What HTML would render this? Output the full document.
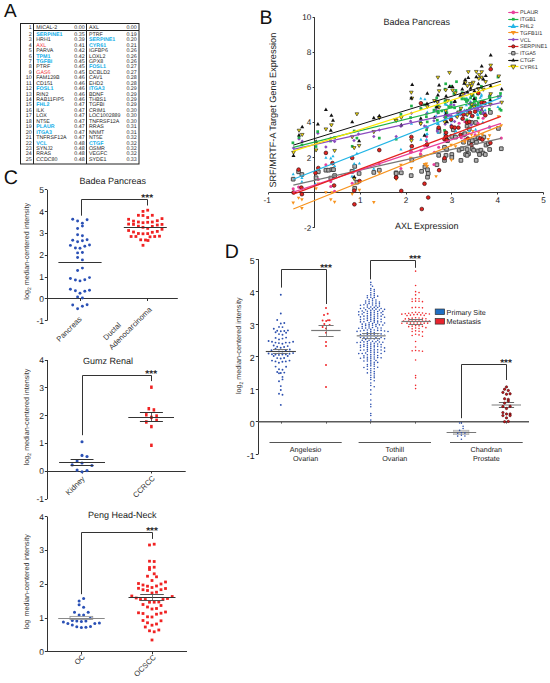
<!DOCTYPE html>
<html><head><meta charset="utf-8"><style>
html,body{margin:0;padding:0;background:#fff;}
svg{display:block;font-family:"Liberation Sans", sans-serif;text-rendering:geometricPrecision;}
</style></head><body>
<svg width="550" height="683" viewBox="0 0 550 683">
<rect width="550" height="683" fill="#fff"/>
<text x="4" y="17" font-size="19" text-anchor="start" fill="#111">A</text>
<rect x="20.5" y="23.5" width="118.5" height="140.5" fill="none" stroke="#222" stroke-width="1"/>
<line x1="33.5" y1="23.5" x2="33.5" y2="164" stroke="#222" stroke-width="1"/>
<line x1="86.5" y1="23.5" x2="86.5" y2="164" stroke="#222" stroke-width="1"/>
<line x1="33.5" y1="30.5" x2="139" y2="30.5" stroke="#222" stroke-width="1"/>
<text x="31.6" y="28.8" font-size="5.3" text-anchor="end" fill="#262626">1</text>
<text x="36.3" y="28.8" font-size="5.3" text-anchor="start" fill="#262626">MICAL-2</text>
<text x="84.6" y="28.8" font-size="5.3" text-anchor="end" fill="#262626">0.00</text>
<text x="89" y="28.8" font-size="5.3" text-anchor="start" fill="#262626">AXL</text>
<text x="136.7" y="28.8" font-size="5.3" text-anchor="end" fill="#262626">0.00</text>
<text x="31.6" y="35.9" font-size="5.3" text-anchor="end" fill="#262626">2</text>
<text x="36.3" y="35.9" font-size="5.3" text-anchor="start" fill="#12aee8" font-weight="bold">SERPINE1</text>
<text x="84.6" y="35.9" font-size="5.3" text-anchor="end" fill="#262626">0.35</text>
<text x="89" y="35.9" font-size="5.3" text-anchor="start" fill="#262626">PTRF</text>
<text x="136.7" y="35.9" font-size="5.3" text-anchor="end" fill="#262626">0.19</text>
<text x="31.6" y="41.33" font-size="5.3" text-anchor="end" fill="#262626">3</text>
<text x="36.3" y="41.33" font-size="5.3" text-anchor="start" fill="#262626">HRH1</text>
<text x="84.6" y="41.33" font-size="5.3" text-anchor="end" fill="#262626">0.39</text>
<text x="89" y="41.33" font-size="5.3" text-anchor="start" fill="#12aee8" font-weight="bold">SERPINE1</text>
<text x="136.7" y="41.33" font-size="5.3" text-anchor="end" fill="#262626">0.20</text>
<text x="31.6" y="46.76" font-size="5.3" text-anchor="end" fill="#262626">4</text>
<text x="36.3" y="46.76" font-size="5.3" text-anchor="start" fill="#f03a46">AXL</text>
<text x="84.6" y="46.76" font-size="5.3" text-anchor="end" fill="#262626">0.41</text>
<text x="89" y="46.76" font-size="5.3" text-anchor="start" fill="#12aee8" font-weight="bold">CYR61</text>
<text x="136.7" y="46.76" font-size="5.3" text-anchor="end" fill="#262626">0.21</text>
<text x="31.6" y="52.19" font-size="5.3" text-anchor="end" fill="#262626">5</text>
<text x="36.3" y="52.19" font-size="5.3" text-anchor="start" fill="#262626">PARVA</text>
<text x="84.6" y="52.19" font-size="5.3" text-anchor="end" fill="#262626">0.42</text>
<text x="89" y="52.19" font-size="5.3" text-anchor="start" fill="#262626">IGFBP6</text>
<text x="136.7" y="52.19" font-size="5.3" text-anchor="end" fill="#262626">0.26</text>
<text x="31.6" y="57.62" font-size="5.3" text-anchor="end" fill="#262626">6</text>
<text x="36.3" y="57.62" font-size="5.3" text-anchor="start" fill="#12aee8" font-weight="bold">TPM1</text>
<text x="84.6" y="57.62" font-size="5.3" text-anchor="end" fill="#262626">0.42</text>
<text x="89" y="57.62" font-size="5.3" text-anchor="start" fill="#262626">LOXL2</text>
<text x="136.7" y="57.62" font-size="5.3" text-anchor="end" fill="#262626">0.26</text>
<text x="31.6" y="63.05" font-size="5.3" text-anchor="end" fill="#262626">7</text>
<text x="36.3" y="63.05" font-size="5.3" text-anchor="start" fill="#12aee8" font-weight="bold">TGFBI</text>
<text x="84.6" y="63.05" font-size="5.3" text-anchor="end" fill="#262626">0.45</text>
<text x="89" y="63.05" font-size="5.3" text-anchor="start" fill="#262626">GPX8</text>
<text x="136.7" y="63.05" font-size="5.3" text-anchor="end" fill="#262626">0.26</text>
<text x="31.6" y="68.48" font-size="5.3" text-anchor="end" fill="#262626">8</text>
<text x="36.3" y="68.48" font-size="5.3" text-anchor="start" fill="#262626">PTRF</text>
<text x="84.6" y="68.48" font-size="5.3" text-anchor="end" fill="#262626">0.45</text>
<text x="89" y="68.48" font-size="5.3" text-anchor="start" fill="#12aee8" font-weight="bold">FOSL1</text>
<text x="136.7" y="68.48" font-size="5.3" text-anchor="end" fill="#262626">0.27</text>
<text x="31.6" y="73.91" font-size="5.3" text-anchor="end" fill="#262626">9</text>
<text x="36.3" y="73.91" font-size="5.3" text-anchor="start" fill="#f03a46">GAS6</text>
<text x="84.6" y="73.91" font-size="5.3" text-anchor="end" fill="#262626">0.45</text>
<text x="89" y="73.91" font-size="5.3" text-anchor="start" fill="#262626">DCBLD2</text>
<text x="136.7" y="73.91" font-size="5.3" text-anchor="end" fill="#262626">0.27</text>
<text x="31.6" y="79.34" font-size="5.3" text-anchor="end" fill="#262626">10</text>
<text x="36.3" y="79.34" font-size="5.3" text-anchor="start" fill="#262626">FAM129B</text>
<text x="84.6" y="79.34" font-size="5.3" text-anchor="end" fill="#262626">0.46</text>
<text x="89" y="79.34" font-size="5.3" text-anchor="start" fill="#262626">CAV1</text>
<text x="136.7" y="79.34" font-size="5.3" text-anchor="end" fill="#262626">0.28</text>
<text x="31.6" y="84.77" font-size="5.3" text-anchor="end" fill="#262626">11</text>
<text x="36.3" y="84.77" font-size="5.3" text-anchor="start" fill="#262626">CD151</text>
<text x="84.6" y="84.77" font-size="5.3" text-anchor="end" fill="#262626">0.46</text>
<text x="89" y="84.77" font-size="5.3" text-anchor="start" fill="#262626">EHD2</text>
<text x="136.7" y="84.77" font-size="5.3" text-anchor="end" fill="#262626">0.28</text>
<text x="31.6" y="90.2" font-size="5.3" text-anchor="end" fill="#262626">12</text>
<text x="36.3" y="90.2" font-size="5.3" text-anchor="start" fill="#12aee8" font-weight="bold">FOSL1</text>
<text x="84.6" y="90.2" font-size="5.3" text-anchor="end" fill="#262626">0.46</text>
<text x="89" y="90.2" font-size="5.3" text-anchor="start" fill="#12aee8" font-weight="bold">ITGA3</text>
<text x="136.7" y="90.2" font-size="5.3" text-anchor="end" fill="#262626">0.29</text>
<text x="31.6" y="95.63" font-size="5.3" text-anchor="end" fill="#262626">13</text>
<text x="36.3" y="95.63" font-size="5.3" text-anchor="start" fill="#262626">RIN2</text>
<text x="84.6" y="95.63" font-size="5.3" text-anchor="end" fill="#262626">0.46</text>
<text x="89" y="95.63" font-size="5.3" text-anchor="start" fill="#262626">BDNF</text>
<text x="136.7" y="95.63" font-size="5.3" text-anchor="end" fill="#262626">0.29</text>
<text x="31.6" y="101.06" font-size="5.3" text-anchor="end" fill="#262626">14</text>
<text x="36.3" y="101.06" font-size="5.3" text-anchor="start" fill="#262626">RAB11FIP5</text>
<text x="84.6" y="101.06" font-size="5.3" text-anchor="end" fill="#262626">0.46</text>
<text x="89" y="101.06" font-size="5.3" text-anchor="start" fill="#262626">THBS1</text>
<text x="136.7" y="101.06" font-size="5.3" text-anchor="end" fill="#262626">0.29</text>
<text x="31.6" y="106.49" font-size="5.3" text-anchor="end" fill="#262626">15</text>
<text x="36.3" y="106.49" font-size="5.3" text-anchor="start" fill="#12aee8" font-weight="bold">FHL2</text>
<text x="84.6" y="106.49" font-size="5.3" text-anchor="end" fill="#262626">0.47</text>
<text x="89" y="106.49" font-size="5.3" text-anchor="start" fill="#262626">TGFBI</text>
<text x="136.7" y="106.49" font-size="5.3" text-anchor="end" fill="#262626">0.29</text>
<text x="31.6" y="111.92" font-size="5.3" text-anchor="end" fill="#262626">16</text>
<text x="36.3" y="111.92" font-size="5.3" text-anchor="start" fill="#262626">ILK</text>
<text x="84.6" y="111.92" font-size="5.3" text-anchor="end" fill="#262626">0.47</text>
<text x="89" y="111.92" font-size="5.3" text-anchor="start" fill="#262626">CRIM1</text>
<text x="136.7" y="111.92" font-size="5.3" text-anchor="end" fill="#262626">0.30</text>
<text x="31.6" y="117.35" font-size="5.3" text-anchor="end" fill="#262626">17</text>
<text x="36.3" y="117.35" font-size="5.3" text-anchor="start" fill="#262626">LOX</text>
<text x="84.6" y="117.35" font-size="5.3" text-anchor="end" fill="#262626">0.47</text>
<text x="89" y="117.35" font-size="5.3" text-anchor="start" fill="#262626">LOC1002889</text>
<text x="136.7" y="117.35" font-size="5.3" text-anchor="end" fill="#262626">0.30</text>
<text x="31.6" y="122.78" font-size="5.3" text-anchor="end" fill="#262626">18</text>
<text x="36.3" y="122.78" font-size="5.3" text-anchor="start" fill="#262626">NT5E</text>
<text x="84.6" y="122.78" font-size="5.3" text-anchor="end" fill="#262626">0.47</text>
<text x="89" y="122.78" font-size="5.3" text-anchor="start" fill="#262626">TNFRSF12A</text>
<text x="136.7" y="122.78" font-size="5.3" text-anchor="end" fill="#262626">0.30</text>
<text x="31.6" y="128.21" font-size="5.3" text-anchor="end" fill="#262626">19</text>
<text x="36.3" y="128.21" font-size="5.3" text-anchor="start" fill="#12aee8" font-weight="bold">PLAUR</text>
<text x="84.6" y="128.21" font-size="5.3" text-anchor="end" fill="#262626">0.47</text>
<text x="89" y="128.21" font-size="5.3" text-anchor="start" fill="#262626">RRAS</text>
<text x="136.7" y="128.21" font-size="5.3" text-anchor="end" fill="#262626">0.31</text>
<text x="31.6" y="133.64" font-size="5.3" text-anchor="end" fill="#262626">20</text>
<text x="36.3" y="133.64" font-size="5.3" text-anchor="start" fill="#12aee8" font-weight="bold">ITGA3</text>
<text x="84.6" y="133.64" font-size="5.3" text-anchor="end" fill="#262626">0.47</text>
<text x="89" y="133.64" font-size="5.3" text-anchor="start" fill="#262626">NNMT</text>
<text x="136.7" y="133.64" font-size="5.3" text-anchor="end" fill="#262626">0.31</text>
<text x="31.6" y="139.07" font-size="5.3" text-anchor="end" fill="#262626">21</text>
<text x="36.3" y="139.07" font-size="5.3" text-anchor="start" fill="#262626">TNFRSF12A</text>
<text x="84.6" y="139.07" font-size="5.3" text-anchor="end" fill="#262626">0.47</text>
<text x="89" y="139.07" font-size="5.3" text-anchor="start" fill="#262626">NT5E</text>
<text x="136.7" y="139.07" font-size="5.3" text-anchor="end" fill="#262626">0.32</text>
<text x="31.6" y="144.5" font-size="5.3" text-anchor="end" fill="#262626">22</text>
<text x="36.3" y="144.5" font-size="5.3" text-anchor="start" fill="#12aee8" font-weight="bold">VCL</text>
<text x="84.6" y="144.5" font-size="5.3" text-anchor="end" fill="#262626">0.48</text>
<text x="89" y="144.5" font-size="5.3" text-anchor="start" fill="#12aee8" font-weight="bold">CTGF</text>
<text x="136.7" y="144.5" font-size="5.3" text-anchor="end" fill="#262626">0.32</text>
<text x="31.6" y="149.93" font-size="5.3" text-anchor="end" fill="#262626">23</text>
<text x="36.3" y="149.93" font-size="5.3" text-anchor="start" fill="#262626">SYNJ2</text>
<text x="84.6" y="149.93" font-size="5.3" text-anchor="end" fill="#262626">0.48</text>
<text x="89" y="149.93" font-size="5.3" text-anchor="start" fill="#262626">OSMR</text>
<text x="136.7" y="149.93" font-size="5.3" text-anchor="end" fill="#262626">0.32</text>
<text x="31.6" y="155.36" font-size="5.3" text-anchor="end" fill="#262626">24</text>
<text x="36.3" y="155.36" font-size="5.3" text-anchor="start" fill="#262626">RRAS</text>
<text x="84.6" y="155.36" font-size="5.3" text-anchor="end" fill="#262626">0.48</text>
<text x="89" y="155.36" font-size="5.3" text-anchor="start" fill="#262626">VEGFC</text>
<text x="136.7" y="155.36" font-size="5.3" text-anchor="end" fill="#262626">0.32</text>
<text x="31.6" y="160.79" font-size="5.3" text-anchor="end" fill="#262626">25</text>
<text x="36.3" y="160.79" font-size="5.3" text-anchor="start" fill="#262626">CCDC80</text>
<text x="84.6" y="160.79" font-size="5.3" text-anchor="end" fill="#262626">0.48</text>
<text x="89" y="160.79" font-size="5.3" text-anchor="start" fill="#262626">SYDE1</text>
<text x="136.7" y="160.79" font-size="5.3" text-anchor="end" fill="#262626">0.33</text>
<text x="259.4" y="24.1" font-size="19.5" text-anchor="start" fill="#111">B</text>
<line x1="314.5" y1="17.2" x2="314.5" y2="227.8" stroke="#333" stroke-width="1"/>
<line x1="268.55" y1="192.5" x2="543.65" y2="192.5" stroke="#333" stroke-width="1"/>
<line x1="312.6" y1="17.5" x2="314.4" y2="17.5" stroke="#333" stroke-width="1"/>
<text x="311.4" y="20.1" font-size="8.2" text-anchor="end" fill="#222">10</text>
<line x1="312.6" y1="52.5" x2="314.4" y2="52.5" stroke="#333" stroke-width="1"/>
<text x="311.4" y="55.2" font-size="8.2" text-anchor="end" fill="#222">8</text>
<line x1="312.6" y1="87.5" x2="314.4" y2="87.5" stroke="#333" stroke-width="1"/>
<text x="311.4" y="90.3" font-size="8.2" text-anchor="end" fill="#222">6</text>
<line x1="312.6" y1="122.5" x2="314.4" y2="122.5" stroke="#333" stroke-width="1"/>
<text x="311.4" y="125.4" font-size="8.2" text-anchor="end" fill="#222">4</text>
<line x1="312.6" y1="157.5" x2="314.4" y2="157.5" stroke="#333" stroke-width="1"/>
<text x="311.4" y="160.5" font-size="8.2" text-anchor="end" fill="#222">2</text>
<line x1="312.6" y1="227.5" x2="314.4" y2="227.5" stroke="#333" stroke-width="1"/>
<text x="311.4" y="230.7" font-size="8.2" text-anchor="end" fill="#222">-2</text>
<line x1="268.5" y1="192.7" x2="268.5" y2="194.5" stroke="#333" stroke-width="1"/>
<text x="267.05" y="202.8" font-size="8.2" text-anchor="middle" fill="#222">-1</text>
<line x1="360.5" y1="192.7" x2="360.5" y2="194.5" stroke="#333" stroke-width="1"/>
<text x="360.25" y="202.8" font-size="8.2" text-anchor="middle" fill="#222">1</text>
<line x1="406.5" y1="192.7" x2="406.5" y2="194.5" stroke="#333" stroke-width="1"/>
<text x="406.1" y="202.8" font-size="8.2" text-anchor="middle" fill="#222">2</text>
<line x1="451.5" y1="192.7" x2="451.5" y2="194.5" stroke="#333" stroke-width="1"/>
<text x="451.95" y="202.8" font-size="8.2" text-anchor="middle" fill="#222">3</text>
<line x1="497.5" y1="192.7" x2="497.5" y2="194.5" stroke="#333" stroke-width="1"/>
<text x="497.8" y="202.8" font-size="8.2" text-anchor="middle" fill="#222">4</text>
<line x1="543.5" y1="192.7" x2="543.5" y2="194.5" stroke="#333" stroke-width="1"/>
<text x="543.65" y="202.8" font-size="8.2" text-anchor="middle" fill="#222">5</text>
<text x="416.75" y="24.8" font-size="9" text-anchor="middle" fill="#222">Badea Pancreas</text>
<text x="426.75" y="228.8" font-size="9" text-anchor="middle" fill="#222">AXL Expression</text>
<text x="0" y="0" font-size="9.15" text-anchor="middle" fill="#222" transform="translate(275.8,110.2) rotate(-90)">SRF/MRTF-A Target Gene Expression</text>
<rect x="394.25" y="170.95" width="3.7" height="3.7" rx="0.3" fill="#b0b0b0" stroke="#333" stroke-width="0.85"/>
<rect x="399.45" y="170.95" width="3.7" height="3.7" rx="0.3" fill="#b0b0b0" stroke="#333" stroke-width="0.85"/>
<rect x="409.35" y="173.75" width="3.7" height="3.7" rx="0.3" fill="#b0b0b0" stroke="#333" stroke-width="0.85"/>
<rect x="409.95" y="158.05" width="3.7" height="3.7" rx="0.3" fill="#b0b0b0" stroke="#333" stroke-width="0.85"/>
<rect x="419.75" y="169.45" width="3.7" height="3.7" rx="0.3" fill="#b0b0b0" stroke="#333" stroke-width="0.85"/>
<rect x="423.05" y="165.05" width="3.7" height="3.7" rx="0.3" fill="#b0b0b0" stroke="#333" stroke-width="0.85"/>
<rect x="425.65" y="167.85" width="3.7" height="3.7" rx="0.3" fill="#b0b0b0" stroke="#333" stroke-width="0.85"/>
<rect x="425.65" y="175.35" width="3.7" height="3.7" rx="0.3" fill="#b0b0b0" stroke="#333" stroke-width="0.85"/>
<rect x="426.35" y="171.65" width="3.7" height="3.7" rx="0.3" fill="#b0b0b0" stroke="#333" stroke-width="0.85"/>
<rect x="435.05" y="162.85" width="3.7" height="3.7" rx="0.3" fill="#b0b0b0" stroke="#333" stroke-width="0.85"/>
<rect x="442.65" y="158.55" width="3.7" height="3.7" rx="0.3" fill="#b0b0b0" stroke="#333" stroke-width="0.85"/>
<rect x="459.05" y="158.55" width="3.7" height="3.7" rx="0.3" fill="#b0b0b0" stroke="#333" stroke-width="0.85"/>
<rect x="474.35" y="158.55" width="3.7" height="3.7" rx="0.3" fill="#b0b0b0" stroke="#333" stroke-width="0.85"/>
<rect x="479.75" y="110.55" width="3.7" height="3.7" rx="0.3" fill="#b0b0b0" stroke="#333" stroke-width="0.85"/>
<rect x="488.55" y="110.55" width="3.7" height="3.7" rx="0.3" fill="#b0b0b0" stroke="#333" stroke-width="0.85"/>
<rect x="469.65" y="120.65" width="3.7" height="3.7" rx="0.3" fill="#b0b0b0" stroke="#333" stroke-width="0.85"/>
<rect x="473.95" y="120.65" width="3.7" height="3.7" rx="0.3" fill="#b0b0b0" stroke="#333" stroke-width="0.85"/>
<rect x="465.25" y="124.35" width="3.7" height="3.7" rx="0.3" fill="#b0b0b0" stroke="#333" stroke-width="0.85"/>
<rect x="467.45" y="127.25" width="3.7" height="3.7" rx="0.3" fill="#b0b0b0" stroke="#333" stroke-width="0.85"/>
<rect x="461.65" y="133.05" width="3.7" height="3.7" rx="0.3" fill="#b0b0b0" stroke="#333" stroke-width="0.85"/>
<rect x="463.05" y="131.85" width="3.7" height="3.7" rx="0.3" fill="#b0b0b0" stroke="#333" stroke-width="0.85"/>
<rect x="436.85" y="127.95" width="3.7" height="3.7" rx="0.3" fill="#b0b0b0" stroke="#333" stroke-width="0.85"/>
<rect x="437.15" y="129.45" width="3.7" height="3.7" rx="0.3" fill="#b0b0b0" stroke="#333" stroke-width="0.85"/>
<rect x="451.45" y="127.95" width="3.7" height="3.7" rx="0.3" fill="#b0b0b0" stroke="#333" stroke-width="0.85"/>
<rect x="449.95" y="134.55" width="3.7" height="3.7" rx="0.3" fill="#b0b0b0" stroke="#333" stroke-width="0.85"/>
<rect x="453.65" y="135.25" width="3.7" height="3.7" rx="0.3" fill="#b0b0b0" stroke="#333" stroke-width="0.85"/>
<rect x="476.15" y="135.95" width="3.7" height="3.7" rx="0.3" fill="#b0b0b0" stroke="#333" stroke-width="0.85"/>
<rect x="481.95" y="135.25" width="3.7" height="3.7" rx="0.3" fill="#b0b0b0" stroke="#333" stroke-width="0.85"/>
<rect x="473.25" y="138.15" width="3.7" height="3.7" rx="0.3" fill="#b0b0b0" stroke="#333" stroke-width="0.85"/>
<rect x="474.65" y="140.35" width="3.7" height="3.7" rx="0.3" fill="#b0b0b0" stroke="#333" stroke-width="0.85"/>
<rect x="461.65" y="140.35" width="3.7" height="3.7" rx="0.3" fill="#b0b0b0" stroke="#333" stroke-width="0.85"/>
<rect x="467.45" y="141.05" width="3.7" height="3.7" rx="0.3" fill="#b0b0b0" stroke="#333" stroke-width="0.85"/>
<rect x="470.35" y="138.85" width="3.7" height="3.7" rx="0.3" fill="#b0b0b0" stroke="#333" stroke-width="0.85"/>
<rect x="444.15" y="135.25" width="3.7" height="3.7" rx="0.3" fill="#b0b0b0" stroke="#333" stroke-width="0.85"/>
<rect x="445.65" y="138.85" width="3.7" height="3.7" rx="0.3" fill="#b0b0b0" stroke="#333" stroke-width="0.85"/>
<rect x="484.15" y="143.25" width="3.7" height="3.7" rx="0.3" fill="#b0b0b0" stroke="#333" stroke-width="0.85"/>
<rect x="486.35" y="141.75" width="3.7" height="3.7" rx="0.3" fill="#b0b0b0" stroke="#333" stroke-width="0.85"/>
<rect x="496.55" y="126.55" width="3.7" height="3.7" rx="0.3" fill="#b0b0b0" stroke="#333" stroke-width="0.85"/>
<rect x="499.45" y="146.85" width="3.7" height="3.7" rx="0.3" fill="#b0b0b0" stroke="#333" stroke-width="0.85"/>
<rect x="457.25" y="148.35" width="3.7" height="3.7" rx="0.3" fill="#b0b0b0" stroke="#333" stroke-width="0.85"/>
<rect x="460.15" y="146.85" width="3.7" height="3.7" rx="0.3" fill="#b0b0b0" stroke="#333" stroke-width="0.85"/>
<rect x="465.25" y="147.65" width="3.7" height="3.7" rx="0.3" fill="#b0b0b0" stroke="#333" stroke-width="0.85"/>
<rect x="466.65" y="151.95" width="3.7" height="3.7" rx="0.3" fill="#b0b0b0" stroke="#333" stroke-width="0.85"/>
<rect x="470.35" y="146.85" width="3.7" height="3.7" rx="0.3" fill="#b0b0b0" stroke="#333" stroke-width="0.85"/>
<rect x="471.75" y="148.35" width="3.7" height="3.7" rx="0.3" fill="#b0b0b0" stroke="#333" stroke-width="0.85"/>
<rect x="476.15" y="149.05" width="3.7" height="3.7" rx="0.3" fill="#b0b0b0" stroke="#333" stroke-width="0.85"/>
<rect x="479.05" y="148.35" width="3.7" height="3.7" rx="0.3" fill="#b0b0b0" stroke="#333" stroke-width="0.85"/>
<rect x="481.25" y="151.25" width="3.7" height="3.7" rx="0.3" fill="#b0b0b0" stroke="#333" stroke-width="0.85"/>
<rect x="487.75" y="147.65" width="3.7" height="3.7" rx="0.3" fill="#b0b0b0" stroke="#333" stroke-width="0.85"/>
<rect x="442.65" y="145.45" width="3.7" height="3.7" rx="0.3" fill="#b0b0b0" stroke="#333" stroke-width="0.85"/>
<rect x="444.85" y="147.65" width="3.7" height="3.7" rx="0.3" fill="#b0b0b0" stroke="#333" stroke-width="0.85"/>
<rect x="449.95" y="152.65" width="3.7" height="3.7" rx="0.3" fill="#b0b0b0" stroke="#333" stroke-width="0.85"/>
<rect x="436.85" y="153.45" width="3.7" height="3.7" rx="0.3" fill="#b0b0b0" stroke="#333" stroke-width="0.85"/>
<rect x="444.15" y="153.45" width="3.7" height="3.7" rx="0.3" fill="#b0b0b0" stroke="#333" stroke-width="0.85"/>
<rect x="477.65" y="152.65" width="3.7" height="3.7" rx="0.3" fill="#b0b0b0" stroke="#333" stroke-width="0.85"/>
<rect x="483.45" y="152.65" width="3.7" height="3.7" rx="0.3" fill="#b0b0b0" stroke="#333" stroke-width="0.85"/>
<rect x="463.75" y="152.65" width="3.7" height="3.7" rx="0.3" fill="#b0b0b0" stroke="#333" stroke-width="0.85"/>
<rect x="465.25" y="153.45" width="3.7" height="3.7" rx="0.3" fill="#b0b0b0" stroke="#333" stroke-width="0.85"/>
<rect x="449.95" y="155.65" width="3.7" height="3.7" rx="0.3" fill="#b0b0b0" stroke="#333" stroke-width="0.85"/>
<rect x="296.75" y="169.95" width="3.7" height="3.7" rx="0.3" fill="#b0b0b0" stroke="#333" stroke-width="0.85"/>
<rect x="300.05" y="172.65" width="3.7" height="3.7" rx="0.3" fill="#b0b0b0" stroke="#333" stroke-width="0.85"/>
<rect x="291.35" y="177.35" width="3.7" height="3.7" rx="0.3" fill="#b0b0b0" stroke="#333" stroke-width="0.85"/>
<rect x="316.45" y="169.95" width="3.7" height="3.7" rx="0.3" fill="#b0b0b0" stroke="#333" stroke-width="0.85"/>
<rect x="314.25" y="175.95" width="3.7" height="3.7" rx="0.3" fill="#b0b0b0" stroke="#333" stroke-width="0.85"/>
<rect x="324.05" y="168.35" width="3.7" height="3.7" rx="0.3" fill="#b0b0b0" stroke="#333" stroke-width="0.85"/>
<rect x="326.75" y="168.35" width="3.7" height="3.7" rx="0.3" fill="#b0b0b0" stroke="#333" stroke-width="0.85"/>
<rect x="330.05" y="167.75" width="3.7" height="3.7" rx="0.3" fill="#b0b0b0" stroke="#333" stroke-width="0.85"/>
<rect x="331.65" y="167.75" width="3.7" height="3.7" rx="0.3" fill="#b0b0b0" stroke="#333" stroke-width="0.85"/>
<rect x="328.95" y="176.25" width="3.7" height="3.7" rx="0.3" fill="#b0b0b0" stroke="#333" stroke-width="0.85"/>
<rect x="332.75" y="173.75" width="3.7" height="3.7" rx="0.3" fill="#b0b0b0" stroke="#333" stroke-width="0.85"/>
<rect x="352.85" y="164.55" width="3.7" height="3.7" rx="0.3" fill="#b0b0b0" stroke="#333" stroke-width="0.85"/>
<rect x="350.15" y="169.45" width="3.7" height="3.7" rx="0.3" fill="#b0b0b0" stroke="#333" stroke-width="0.85"/>
<rect x="357.25" y="171.65" width="3.7" height="3.7" rx="0.3" fill="#b0b0b0" stroke="#333" stroke-width="0.85"/>
<rect x="371.95" y="170.55" width="3.7" height="3.7" rx="0.3" fill="#b0b0b0" stroke="#333" stroke-width="0.85"/>
<rect x="377.45" y="168.35" width="3.7" height="3.7" rx="0.3" fill="#b0b0b0" stroke="#333" stroke-width="0.85"/>
<rect x="394.35" y="171.65" width="3.7" height="3.7" rx="0.3" fill="#b0b0b0" stroke="#333" stroke-width="0.85"/>
<rect x="352.85" y="186.35" width="3.7" height="3.7" rx="0.3" fill="#b0b0b0" stroke="#333" stroke-width="0.85"/>
<rect x="355.05" y="180.35" width="3.7" height="3.7" rx="0.3" fill="#b0b0b0" stroke="#333" stroke-width="0.85"/>
<path d="M400.92 166.97L402.72 163.82L399.12 163.82Z" fill="#f7931e"/>
<path d="M410.61 160.02L412.41 156.87L408.81 156.87Z" fill="#f7931e"/>
<path d="M411.45 170.21L413.25 167.06L409.65 167.06Z" fill="#f7931e"/>
<path d="M420.5 157.71L422.3 154.56L418.7 154.56Z" fill="#f7931e"/>
<path d="M420.92 157.08L422.72 153.93L419.12 153.93Z" fill="#f7931e"/>
<path d="M424.5 166.05L426.3 162.9L422.7 162.9Z" fill="#f7931e"/>
<path d="M426.39 165.71L428.19 162.56L424.59 162.56Z" fill="#f7931e"/>
<path d="M426.6 167.84L428.4 164.69L424.8 164.69Z" fill="#f7931e"/>
<path d="M427.24 168.27L429.04 165.12L425.44 165.12Z" fill="#f7931e"/>
<path d="M436.08 178.37L437.88 175.22L434.28 175.22Z" fill="#f7931e"/>
<path d="M451.44 161.99L453.24 158.84L449.64 158.84Z" fill="#f7931e"/>
<path d="M498.4 118.5L500.2 115.35L496.6 115.35Z" fill="#f7931e"/>
<path d="M501.3 127.3L503.1 124.15L499.5 124.15Z" fill="#f7931e"/>
<path d="M472.9 133.1L474.7 129.95L471.1 129.95Z" fill="#f7931e"/>
<path d="M478.7 134.5L480.5 131.35L476.9 131.35Z" fill="#f7931e"/>
<path d="M482.4 136.7L484.2 133.55L480.6 133.55Z" fill="#f7931e"/>
<path d="M480.9 140.3L482.7 137.15L479.1 137.15Z" fill="#f7931e"/>
<path d="M489.6 137.4L491.4 134.25L487.8 134.25Z" fill="#f7931e"/>
<path d="M488.2 141.1L490 137.95L486.4 137.95Z" fill="#f7931e"/>
<path d="M464.9 144L466.7 140.85L463.1 140.85Z" fill="#f7931e"/>
<path d="M471.5 136.7L473.3 133.55L469.7 133.55Z" fill="#f7931e"/>
<path d="M468.5 135.3L470.3 132.15L466.7 132.15Z" fill="#f7931e"/>
<path d="M455.5 148.3L457.3 145.15L453.7 145.15Z" fill="#f7931e"/>
<path d="M451.1 146.9L452.9 143.75L449.3 143.75Z" fill="#f7931e"/>
<path d="M298.6 199.8L300.4 196.65L296.8 196.65Z" fill="#f7931e"/>
<path d="M301.9 201.4L303.7 198.25L300.1 198.25Z" fill="#f7931e"/>
<path d="M293.2 204.7L295 201.55L291.4 201.55Z" fill="#f7931e"/>
<path d="M301.9 210.2L303.7 207.05L300.1 207.05Z" fill="#f7931e"/>
<path d="M316.1 190.5L317.9 187.35L314.3 187.35Z" fill="#f7931e"/>
<path d="M318.3 185.6L320.1 182.45L316.5 182.45Z" fill="#f7931e"/>
<path d="M325.9 194.3L327.7 191.15L324.1 191.15Z" fill="#f7931e"/>
<path d="M330.8 201.4L332.6 198.25L329 198.25Z" fill="#f7931e"/>
<path d="M334.6 203.9L336.4 200.75L332.8 200.75Z" fill="#f7931e"/>
<path d="M331.9 194.3L333.7 191.15L330.1 191.15Z" fill="#f7931e"/>
<path d="M352.2 196L354 192.85L350.4 192.85Z" fill="#f7931e"/>
<path d="M359.4 191.9L361.2 188.75L357.6 188.75Z" fill="#f7931e"/>
<path d="M379.3 174.7L381.1 171.55L377.5 171.55Z" fill="#f7931e"/>
<path d="M373.8 204.2L375.6 201.05L372 201.05Z" fill="#f7931e"/>
<path d="M396.2 181.3L398 178.15L394.4 178.15Z" fill="#f7931e"/>
<circle cx="400.92" cy="168.52" r="1.55" fill="#e8409c"/>
<circle cx="410.61" cy="152.32" r="1.55" fill="#e8409c"/>
<circle cx="411.45" cy="151.51" r="1.55" fill="#e8409c"/>
<circle cx="420.5" cy="153.68" r="1.55" fill="#e8409c"/>
<circle cx="420.92" cy="150.56" r="1.55" fill="#e8409c"/>
<circle cx="424.5" cy="145.84" r="1.55" fill="#e8409c"/>
<circle cx="426.39" cy="140.8" r="1.55" fill="#e8409c"/>
<circle cx="426.6" cy="136.47" r="1.55" fill="#e8409c"/>
<circle cx="427.24" cy="145.6" r="1.55" fill="#e8409c"/>
<circle cx="433.97" cy="164.43" r="1.55" fill="#e8409c"/>
<circle cx="483.1" cy="118.2" r="1.55" fill="#e8409c"/>
<circle cx="489.6" cy="126.9" r="1.55" fill="#e8409c"/>
<circle cx="501.3" cy="138.1" r="1.55" fill="#e8409c"/>
<circle cx="478" cy="123.3" r="1.55" fill="#e8409c"/>
<circle cx="459.1" cy="123.3" r="1.55" fill="#e8409c"/>
<circle cx="464.9" cy="121.8" r="1.55" fill="#e8409c"/>
<circle cx="475.1" cy="134.9" r="1.55" fill="#e8409c"/>
<circle cx="438.7" cy="147.3" r="1.55" fill="#e8409c"/>
<circle cx="434.4" cy="152.4" r="1.55" fill="#e8409c"/>
<circle cx="461.3" cy="137.8" r="1.55" fill="#e8409c"/>
<circle cx="464.9" cy="139.3" r="1.55" fill="#e8409c"/>
<circle cx="293.2" cy="188.7" r="1.55" fill="#e8409c"/>
<circle cx="298.6" cy="187.1" r="1.55" fill="#e8409c"/>
<circle cx="325.9" cy="164.7" r="1.55" fill="#e8409c"/>
<circle cx="330.8" cy="181.6" r="1.55" fill="#e8409c"/>
<circle cx="330.8" cy="186.5" r="1.55" fill="#e8409c"/>
<circle cx="334.6" cy="191.2" r="1.55" fill="#e8409c"/>
<circle cx="318.3" cy="179.5" r="1.55" fill="#e8409c"/>
<circle cx="352.2" cy="183.3" r="1.55" fill="#e8409c"/>
<circle cx="379.3" cy="163.6" r="1.55" fill="#e8409c"/>
<path d="M400.92 147.74L402.52 150.54L399.32 150.54Z" fill="#22b5e6"/>
<path d="M410.61 147.65L412.21 150.45L409.01 150.45Z" fill="#22b5e6"/>
<path d="M411.45 121.91L413.05 124.71L409.85 124.71Z" fill="#22b5e6"/>
<path d="M420.5 118.63L422.1 121.43L418.9 121.43Z" fill="#22b5e6"/>
<path d="M420.92 137.84L422.52 140.64L419.32 140.64Z" fill="#22b5e6"/>
<path d="M424.5 133.35L426.1 136.15L422.9 136.15Z" fill="#22b5e6"/>
<path d="M426.39 132.6L427.99 135.4L424.79 135.4Z" fill="#22b5e6"/>
<path d="M426.6 137.74L428.2 140.54L425 140.54Z" fill="#22b5e6"/>
<path d="M427.24 132.13L428.84 134.93L425.64 134.93Z" fill="#22b5e6"/>
<path d="M433.97 109.15L435.57 111.95L432.37 111.95Z" fill="#22b5e6"/>
<path d="M436.08 114.23L437.68 117.03L434.48 117.03Z" fill="#22b5e6"/>
<path d="M436.71 99.59L438.31 102.39L435.11 102.39Z" fill="#22b5e6"/>
<path d="M437.34 121.9L438.94 124.7L435.74 124.7Z" fill="#22b5e6"/>
<path d="M437.76 122.26L439.36 125.06L436.16 125.06Z" fill="#22b5e6"/>
<path d="M438.18 131.01L439.78 133.81L436.58 133.81Z" fill="#22b5e6"/>
<path d="M438.39 121.89L439.99 124.69L436.79 124.69Z" fill="#22b5e6"/>
<path d="M444.5 132.01L446.1 134.81L442.9 134.81Z" fill="#22b5e6"/>
<path d="M445.13 136.65L446.73 139.45L443.53 139.45Z" fill="#22b5e6"/>
<path d="M445.13 110.6L446.73 113.4L443.53 113.4Z" fill="#22b5e6"/>
<path d="M445.13 102.77L446.73 105.57L443.53 105.57Z" fill="#22b5e6"/>
<path d="M445.76 108.87L447.36 111.67L444.16 111.67Z" fill="#22b5e6"/>
<path d="M446.81 103.24L448.41 106.04L445.21 106.04Z" fill="#22b5e6"/>
<path d="M448.71 113.87L450.31 116.67L447.11 116.67Z" fill="#22b5e6"/>
<path d="M450.81 123.26L452.41 126.06L449.21 126.06Z" fill="#22b5e6"/>
<path d="M451.23 114.63L452.83 117.43L449.63 117.43Z" fill="#22b5e6"/>
<path d="M451.44 119.39L453.04 122.19L449.84 122.19Z" fill="#22b5e6"/>
<path d="M453.97 126.16L455.57 128.96L452.37 128.96Z" fill="#22b5e6"/>
<path d="M454.6 132.03L456.2 134.83L453 134.83Z" fill="#22b5e6"/>
<path d="M455.87 129.33L457.47 132.13L454.27 132.13Z" fill="#22b5e6"/>
<path d="M457.76 113.03L459.36 115.83L456.16 115.83Z" fill="#22b5e6"/>
<path d="M460.29 110.39L461.89 113.19L458.69 113.19Z" fill="#22b5e6"/>
<path d="M461.97 116.32L463.57 119.12L460.37 119.12Z" fill="#22b5e6"/>
<path d="M462.18 96.19L463.78 98.99L460.58 98.99Z" fill="#22b5e6"/>
<path d="M464.5 108.44L466.1 111.24L462.9 111.24Z" fill="#22b5e6"/>
<path d="M466.39 103.44L467.99 106.24L464.79 106.24Z" fill="#22b5e6"/>
<path d="M466.81 96.58L468.41 99.38L465.21 99.38Z" fill="#22b5e6"/>
<path d="M467.02 117.97L468.62 120.77L465.42 120.77Z" fill="#22b5e6"/>
<path d="M469.34 129.16L470.94 131.96L467.74 131.96Z" fill="#22b5e6"/>
<path d="M470.6 100L472.2 102.8L469 102.8Z" fill="#22b5e6"/>
<path d="M470.6 115.18L472.2 117.98L469 117.98Z" fill="#22b5e6"/>
<path d="M471.23 93.87L472.83 96.67L469.63 96.67Z" fill="#22b5e6"/>
<path d="M473.13 103.38L474.73 106.18L471.53 106.18Z" fill="#22b5e6"/>
<path d="M474.18 95.92L475.78 98.72L472.58 98.72Z" fill="#22b5e6"/>
<path d="M475.02 98.15L476.62 100.95L473.42 100.95Z" fill="#22b5e6"/>
<path d="M475.65 127.85L477.25 130.65L474.05 130.65Z" fill="#22b5e6"/>
<path d="M475.65 98.37L477.25 101.17L474.05 101.17Z" fill="#22b5e6"/>
<path d="M477.55 112.28L479.15 115.08L475.95 115.08Z" fill="#22b5e6"/>
<path d="M477.76 113.08L479.36 115.88L476.16 115.88Z" fill="#22b5e6"/>
<path d="M478.39 109.45L479.99 112.25L476.79 112.25Z" fill="#22b5e6"/>
<path d="M480.29 96.03L481.89 98.83L478.69 98.83Z" fill="#22b5e6"/>
<path d="M481.34 94.4L482.94 97.2L479.74 97.2Z" fill="#22b5e6"/>
<path d="M481.55 92.98L483.15 95.78L479.95 95.78Z" fill="#22b5e6"/>
<path d="M482.81 120.61L484.41 123.41L481.21 123.41Z" fill="#22b5e6"/>
<path d="M485.13 108.44L486.73 111.24L483.53 111.24Z" fill="#22b5e6"/>
<path d="M489.34 125.58L490.94 128.38L487.74 128.38Z" fill="#22b5e6"/>
<path d="M489.76 101.47L491.36 104.27L488.16 104.27Z" fill="#22b5e6"/>
<path d="M489.76 94.08L491.36 96.88L488.16 96.88Z" fill="#22b5e6"/>
<path d="M497.97 105.22L499.57 108.02L496.37 108.02Z" fill="#22b5e6"/>
<path d="M500.49 93.6L502.09 96.4L498.89 96.4Z" fill="#22b5e6"/>
<path d="M420.8 96.8L422.4 99.6L419.2 99.6Z" fill="#22b5e6"/>
<path d="M424.9 97.4L426.5 100.2L423.3 100.2Z" fill="#22b5e6"/>
<path d="M427.3 110.4L428.9 113.2L425.7 113.2Z" fill="#22b5e6"/>
<path d="M293.2 172.4L294.8 175.2L291.6 175.2Z" fill="#22b5e6"/>
<path d="M301.9 176.2L303.5 179L300.3 179Z" fill="#22b5e6"/>
<path d="M301.9 180L303.5 182.8L300.3 182.8Z" fill="#22b5e6"/>
<path d="M325.9 156L327.5 158.8L324.3 158.8Z" fill="#22b5e6"/>
<path d="M330.8 156.6L332.4 159.4L329.2 159.4Z" fill="#22b5e6"/>
<path d="M333 154.4L334.6 157.2L331.4 157.2Z" fill="#22b5e6"/>
<path d="M334.6 164.2L336.2 167L333 167Z" fill="#22b5e6"/>
<path d="M315.5 182.2L317.1 185L313.9 185Z" fill="#22b5e6"/>
<path d="M356.9 151.7L358.5 154.5L355.3 154.5Z" fill="#22b5e6"/>
<path d="M354.2 162L355.8 164.8L352.6 164.8Z" fill="#22b5e6"/>
<path d="M359.4 161.7L361 164.5L357.8 164.5Z" fill="#22b5e6"/>
<path d="M354.2 168.6L355.8 171.4L352.6 171.4Z" fill="#22b5e6"/>
<path d="M352 174.6L353.6 177.4L350.4 177.4Z" fill="#22b5e6"/>
<path d="M373.8 166.9L375.4 169.7L372.2 169.7Z" fill="#22b5e6"/>
<path d="M400.92 124.47L402.67 126.22L400.92 127.97L399.17 126.22Z" fill="#8b4cc0"/>
<path d="M410.61 119.51L412.36 121.26L410.61 123.01L408.86 121.26Z" fill="#8b4cc0"/>
<path d="M411.45 111.54L413.2 113.29L411.45 115.04L409.7 113.29Z" fill="#8b4cc0"/>
<path d="M420.5 122.2L422.25 123.95L420.5 125.7L418.75 123.95Z" fill="#8b4cc0"/>
<path d="M420.92 106.56L422.67 108.31L420.92 110.06L419.17 108.31Z" fill="#8b4cc0"/>
<path d="M424.5 124.29L426.25 126.04L424.5 127.79L422.75 126.04Z" fill="#8b4cc0"/>
<path d="M426.39 125.05L428.14 126.8L426.39 128.55L424.64 126.8Z" fill="#8b4cc0"/>
<path d="M426.6 112.03L428.35 113.78L426.6 115.53L424.85 113.78Z" fill="#8b4cc0"/>
<path d="M427.24 125.92L428.99 127.67L427.24 129.42L425.49 127.67Z" fill="#8b4cc0"/>
<path d="M433.97 118.91L435.72 120.66L433.97 122.41L432.22 120.66Z" fill="#8b4cc0"/>
<path d="M436.08 108.35L437.83 110.1L436.08 111.85L434.33 110.1Z" fill="#8b4cc0"/>
<path d="M436.71 105.81L438.46 107.56L436.71 109.31L434.96 107.56Z" fill="#8b4cc0"/>
<path d="M437.34 129.25L439.09 131L437.34 132.75L435.59 131Z" fill="#8b4cc0"/>
<path d="M437.76 111.14L439.51 112.89L437.76 114.64L436.01 112.89Z" fill="#8b4cc0"/>
<path d="M438.18 100.16L439.93 101.91L438.18 103.66L436.43 101.91Z" fill="#8b4cc0"/>
<path d="M438.39 105.55L440.14 107.3L438.39 109.05L436.64 107.3Z" fill="#8b4cc0"/>
<path d="M444.5 115.52L446.25 117.27L444.5 119.02L442.75 117.27Z" fill="#8b4cc0"/>
<path d="M445.13 118.22L446.88 119.97L445.13 121.72L443.38 119.97Z" fill="#8b4cc0"/>
<path d="M445.13 115.82L446.88 117.57L445.13 119.32L443.38 117.57Z" fill="#8b4cc0"/>
<path d="M445.13 122.58L446.88 124.33L445.13 126.08L443.38 124.33Z" fill="#8b4cc0"/>
<path d="M445.76 115.43L447.51 117.18L445.76 118.93L444.01 117.18Z" fill="#8b4cc0"/>
<path d="M446.81 114.58L448.56 116.33L446.81 118.08L445.06 116.33Z" fill="#8b4cc0"/>
<path d="M448.71 113.82L450.46 115.57L448.71 117.32L446.96 115.57Z" fill="#8b4cc0"/>
<path d="M450.81 102.86L452.56 104.61L450.81 106.36L449.06 104.61Z" fill="#8b4cc0"/>
<path d="M451.23 113.92L452.98 115.67L451.23 117.42L449.48 115.67Z" fill="#8b4cc0"/>
<path d="M451.44 123.57L453.19 125.32L451.44 127.07L449.69 125.32Z" fill="#8b4cc0"/>
<path d="M453.97 103.19L455.72 104.94L453.97 106.69L452.22 104.94Z" fill="#8b4cc0"/>
<path d="M454.6 119.82L456.35 121.57L454.6 123.32L452.85 121.57Z" fill="#8b4cc0"/>
<path d="M455.87 114.6L457.62 116.35L455.87 118.1L454.12 116.35Z" fill="#8b4cc0"/>
<path d="M457.76 111.7L459.51 113.45L457.76 115.2L456.01 113.45Z" fill="#8b4cc0"/>
<path d="M460.29 112.79L462.04 114.54L460.29 116.29L458.54 114.54Z" fill="#8b4cc0"/>
<path d="M461.97 117.61L463.72 119.36L461.97 121.11L460.22 119.36Z" fill="#8b4cc0"/>
<path d="M462.18 111.61L463.93 113.36L462.18 115.11L460.43 113.36Z" fill="#8b4cc0"/>
<path d="M464.5 91.88L466.25 93.63L464.5 95.38L462.75 93.63Z" fill="#8b4cc0"/>
<path d="M466.39 113.49L468.14 115.24L466.39 116.99L464.64 115.24Z" fill="#8b4cc0"/>
<path d="M466.81 109.68L468.56 111.43L466.81 113.18L465.06 111.43Z" fill="#8b4cc0"/>
<path d="M467.02 99.68L468.77 101.43L467.02 103.18L465.27 101.43Z" fill="#8b4cc0"/>
<path d="M469.34 102.16L471.09 103.91L469.34 105.66L467.59 103.91Z" fill="#8b4cc0"/>
<path d="M470.6 101.72L472.35 103.47L470.6 105.22L468.85 103.47Z" fill="#8b4cc0"/>
<path d="M470.6 100.94L472.35 102.69L470.6 104.44L468.85 102.69Z" fill="#8b4cc0"/>
<path d="M471.23 123.15L472.98 124.9L471.23 126.65L469.48 124.9Z" fill="#8b4cc0"/>
<path d="M473.13 114.01L474.88 115.76L473.13 117.51L471.38 115.76Z" fill="#8b4cc0"/>
<path d="M474.18 105.94L475.93 107.69L474.18 109.44L472.43 107.69Z" fill="#8b4cc0"/>
<path d="M475.02 102.82L476.77 104.57L475.02 106.32L473.27 104.57Z" fill="#8b4cc0"/>
<path d="M475.65 96.4L477.4 98.15L475.65 99.9L473.9 98.15Z" fill="#8b4cc0"/>
<path d="M475.65 102.91L477.4 104.66L475.65 106.41L473.9 104.66Z" fill="#8b4cc0"/>
<path d="M477.55 108.07L479.3 109.82L477.55 111.57L475.8 109.82Z" fill="#8b4cc0"/>
<path d="M477.76 105.83L479.51 107.58L477.76 109.33L476.01 107.58Z" fill="#8b4cc0"/>
<path d="M478.39 107.67L480.14 109.42L478.39 111.17L476.64 109.42Z" fill="#8b4cc0"/>
<path d="M480.29 103.63L482.04 105.38L480.29 107.13L478.54 105.38Z" fill="#8b4cc0"/>
<path d="M481.34 100.02L483.09 101.77L481.34 103.52L479.59 101.77Z" fill="#8b4cc0"/>
<path d="M481.55 107.98L483.3 109.73L481.55 111.48L479.8 109.73Z" fill="#8b4cc0"/>
<path d="M482.81 111.43L484.56 113.18L482.81 114.93L481.06 113.18Z" fill="#8b4cc0"/>
<path d="M485.13 111.24L486.88 112.99L485.13 114.74L483.38 112.99Z" fill="#8b4cc0"/>
<path d="M489.34 94.88L491.09 96.63L489.34 98.38L487.59 96.63Z" fill="#8b4cc0"/>
<path d="M489.76 93.33L491.51 95.08L489.76 96.83L488.01 95.08Z" fill="#8b4cc0"/>
<path d="M489.76 95.61L491.51 97.36L489.76 99.11L488.01 97.36Z" fill="#8b4cc0"/>
<path d="M497.97 94.83L499.72 96.58L497.97 98.33L496.22 96.58Z" fill="#8b4cc0"/>
<path d="M500.49 94.45L502.24 96.2L500.49 97.95L498.74 96.2Z" fill="#8b4cc0"/>
<path d="M293.5 146.25L295.25 148L293.5 149.75L291.75 148Z" fill="#8b4cc0"/>
<path d="M299 137.35L300.75 139.1L299 140.85L297.25 139.1Z" fill="#8b4cc0"/>
<path d="M302.2 139.45L303.95 141.2L302.2 142.95L300.45 141.2Z" fill="#8b4cc0"/>
<path d="M317.9 131.55L319.65 133.3L317.9 135.05L316.15 133.3Z" fill="#8b4cc0"/>
<path d="M330.8 136.45L332.55 138.2L330.8 139.95L329.05 138.2Z" fill="#8b4cc0"/>
<path d="M334.6 139.75L336.35 141.5L334.6 143.25L332.85 141.5Z" fill="#8b4cc0"/>
<path d="M325.9 145.35L327.65 147.1L325.9 148.85L324.15 147.1Z" fill="#8b4cc0"/>
<path d="M379.3 128.15L381.05 129.9L379.3 131.65L377.55 129.9Z" fill="#8b4cc0"/>
<path d="M373.8 134.75L375.55 136.5L373.8 138.25L372.05 136.5Z" fill="#8b4cc0"/>
<path d="M396.2 134.75L397.95 136.5L396.2 138.25L394.45 136.5Z" fill="#8b4cc0"/>
<path d="M354 138.75L355.75 140.5L354 142.25L352.25 140.5Z" fill="#8b4cc0"/>
<path d="M358.5 132.25L360.25 134L358.5 135.75L356.75 134Z" fill="#8b4cc0"/>
<rect x="399.57" y="112.93" width="2.7" height="2.7" fill="#1fb24a"/>
<rect x="409.26" y="116.21" width="2.7" height="2.7" fill="#1fb24a"/>
<rect x="410.1" y="104.64" width="2.7" height="2.7" fill="#1fb24a"/>
<rect x="419.15" y="120.93" width="2.7" height="2.7" fill="#1fb24a"/>
<rect x="419.57" y="107.2" width="2.7" height="2.7" fill="#1fb24a"/>
<rect x="423.15" y="103.5" width="2.7" height="2.7" fill="#1fb24a"/>
<rect x="425.04" y="115.35" width="2.7" height="2.7" fill="#1fb24a"/>
<rect x="425.25" y="128.45" width="2.7" height="2.7" fill="#1fb24a"/>
<rect x="425.89" y="120.53" width="2.7" height="2.7" fill="#1fb24a"/>
<rect x="432.62" y="108.81" width="2.7" height="2.7" fill="#1fb24a"/>
<rect x="434.73" y="105.73" width="2.7" height="2.7" fill="#1fb24a"/>
<rect x="435.36" y="96.62" width="2.7" height="2.7" fill="#1fb24a"/>
<rect x="435.99" y="118.86" width="2.7" height="2.7" fill="#1fb24a"/>
<rect x="436.41" y="109.92" width="2.7" height="2.7" fill="#1fb24a"/>
<rect x="436.83" y="104.14" width="2.7" height="2.7" fill="#1fb24a"/>
<rect x="437.04" y="111.17" width="2.7" height="2.7" fill="#1fb24a"/>
<rect x="443.15" y="129.05" width="2.7" height="2.7" fill="#1fb24a"/>
<rect x="443.78" y="101.02" width="2.7" height="2.7" fill="#1fb24a"/>
<rect x="443.78" y="87.81" width="2.7" height="2.7" fill="#1fb24a"/>
<rect x="443.78" y="99.29" width="2.7" height="2.7" fill="#1fb24a"/>
<rect x="444.41" y="115.99" width="2.7" height="2.7" fill="#1fb24a"/>
<rect x="445.46" y="111.3" width="2.7" height="2.7" fill="#1fb24a"/>
<rect x="447.36" y="105.26" width="2.7" height="2.7" fill="#1fb24a"/>
<rect x="449.46" y="84.84" width="2.7" height="2.7" fill="#1fb24a"/>
<rect x="449.88" y="101.15" width="2.7" height="2.7" fill="#1fb24a"/>
<rect x="450.09" y="105.52" width="2.7" height="2.7" fill="#1fb24a"/>
<rect x="452.62" y="92.22" width="2.7" height="2.7" fill="#1fb24a"/>
<rect x="453.25" y="106.45" width="2.7" height="2.7" fill="#1fb24a"/>
<rect x="454.52" y="89.08" width="2.7" height="2.7" fill="#1fb24a"/>
<rect x="456.41" y="110.95" width="2.7" height="2.7" fill="#1fb24a"/>
<rect x="458.94" y="108.47" width="2.7" height="2.7" fill="#1fb24a"/>
<rect x="460.62" y="97.56" width="2.7" height="2.7" fill="#1fb24a"/>
<rect x="460.83" y="91.34" width="2.7" height="2.7" fill="#1fb24a"/>
<rect x="463.15" y="97.52" width="2.7" height="2.7" fill="#1fb24a"/>
<rect x="465.04" y="100.13" width="2.7" height="2.7" fill="#1fb24a"/>
<rect x="465.46" y="118.66" width="2.7" height="2.7" fill="#1fb24a"/>
<rect x="465.67" y="108.88" width="2.7" height="2.7" fill="#1fb24a"/>
<rect x="467.99" y="107.4" width="2.7" height="2.7" fill="#1fb24a"/>
<rect x="469.25" y="106.41" width="2.7" height="2.7" fill="#1fb24a"/>
<rect x="469.25" y="96.58" width="2.7" height="2.7" fill="#1fb24a"/>
<rect x="469.88" y="104.51" width="2.7" height="2.7" fill="#1fb24a"/>
<rect x="471.78" y="94.18" width="2.7" height="2.7" fill="#1fb24a"/>
<rect x="472.83" y="100.11" width="2.7" height="2.7" fill="#1fb24a"/>
<rect x="473.67" y="103.54" width="2.7" height="2.7" fill="#1fb24a"/>
<rect x="474.3" y="99.43" width="2.7" height="2.7" fill="#1fb24a"/>
<rect x="474.3" y="96.7" width="2.7" height="2.7" fill="#1fb24a"/>
<rect x="476.2" y="92.46" width="2.7" height="2.7" fill="#1fb24a"/>
<rect x="476.41" y="104.13" width="2.7" height="2.7" fill="#1fb24a"/>
<rect x="477.04" y="101.82" width="2.7" height="2.7" fill="#1fb24a"/>
<rect x="478.94" y="111.27" width="2.7" height="2.7" fill="#1fb24a"/>
<rect x="479.99" y="84.97" width="2.7" height="2.7" fill="#1fb24a"/>
<rect x="480.2" y="86.25" width="2.7" height="2.7" fill="#1fb24a"/>
<rect x="481.46" y="100.24" width="2.7" height="2.7" fill="#1fb24a"/>
<rect x="483.78" y="102.29" width="2.7" height="2.7" fill="#1fb24a"/>
<rect x="487.99" y="107.89" width="2.7" height="2.7" fill="#1fb24a"/>
<rect x="488.41" y="95.45" width="2.7" height="2.7" fill="#1fb24a"/>
<rect x="488.41" y="95.13" width="2.7" height="2.7" fill="#1fb24a"/>
<rect x="496.62" y="75.74" width="2.7" height="2.7" fill="#1fb24a"/>
<rect x="499.14" y="92.09" width="2.7" height="2.7" fill="#1fb24a"/>
<rect x="455.15" y="80.35" width="2.7" height="2.7" fill="#1fb24a"/>
<rect x="444.35" y="82.45" width="2.7" height="2.7" fill="#1fb24a"/>
<rect x="464.15" y="98.15" width="2.7" height="2.7" fill="#1fb24a"/>
<rect x="466.65" y="98.75" width="2.7" height="2.7" fill="#1fb24a"/>
<rect x="498.45" y="107.65" width="2.7" height="2.7" fill="#1fb24a"/>
<rect x="499.75" y="108.95" width="2.7" height="2.7" fill="#1fb24a"/>
<rect x="476.85" y="116.55" width="2.7" height="2.7" fill="#1fb24a"/>
<rect x="440.55" y="109.55" width="2.7" height="2.7" fill="#1fb24a"/>
<rect x="291.55" y="141.45" width="2.7" height="2.7" fill="#1fb24a"/>
<rect x="300.55" y="143.55" width="2.7" height="2.7" fill="#1fb24a"/>
<rect x="316.35" y="130.25" width="2.7" height="2.7" fill="#1fb24a"/>
<rect x="333.25" y="136.25" width="2.7" height="2.7" fill="#1fb24a"/>
<rect x="352.85" y="129.65" width="2.7" height="2.7" fill="#1fb24a"/>
<rect x="355.55" y="136.75" width="2.7" height="2.7" fill="#1fb24a"/>
<rect x="377.95" y="136.75" width="2.7" height="2.7" fill="#1fb24a"/>
<rect x="350.85" y="144.95" width="2.7" height="2.7" fill="#1fb24a"/>
<rect x="394.85" y="137.85" width="2.7" height="2.7" fill="#1fb24a"/>
<rect x="297.65" y="136.15" width="2.7" height="2.7" fill="#1fb24a"/>
<rect x="314.65" y="145.15" width="2.7" height="2.7" fill="#1fb24a"/>
<rect x="329.15" y="139.65" width="2.7" height="2.7" fill="#1fb24a"/>
<circle cx="420.92" cy="103.23" r="1.85" fill="#e4231f" stroke="#3a1414" stroke-width="0.7"/>
<circle cx="490.7" cy="69.2" r="1.85" fill="#e4231f" stroke="#3a1414" stroke-width="0.7"/>
<circle cx="478.4" cy="93.1" r="1.85" fill="#e4231f" stroke="#3a1414" stroke-width="0.7"/>
<circle cx="411.4" cy="137" r="1.85" fill="#e4231f" stroke="#3a1414" stroke-width="0.7"/>
<circle cx="411.8" cy="146.2" r="1.85" fill="#e4231f" stroke="#3a1414" stroke-width="0.7"/>
<circle cx="427.1" cy="144.4" r="1.85" fill="#e4231f" stroke="#3a1414" stroke-width="0.7"/>
<circle cx="424.5" cy="183.7" r="1.85" fill="#e4231f" stroke="#3a1414" stroke-width="0.7"/>
<circle cx="401.3" cy="190.9" r="1.85" fill="#e4231f" stroke="#3a1414" stroke-width="0.7"/>
<circle cx="396.1" cy="177.2" r="1.85" fill="#e4231f" stroke="#3a1414" stroke-width="0.7"/>
<circle cx="428.2" cy="197.5" r="1.85" fill="#e4231f" stroke="#3a1414" stroke-width="0.7"/>
<circle cx="439.1" cy="170.2" r="1.85" fill="#e4231f" stroke="#3a1414" stroke-width="0.7"/>
<circle cx="421.8" cy="209" r="1.85" fill="#e4231f" stroke="#3a1414" stroke-width="0.7"/>
<circle cx="481.6" cy="102.2" r="1.85" fill="#e4231f" stroke="#3a1414" stroke-width="0.7"/>
<circle cx="484.5" cy="102.9" r="1.85" fill="#e4231f" stroke="#3a1414" stroke-width="0.7"/>
<circle cx="463.5" cy="114.5" r="1.85" fill="#e4231f" stroke="#3a1414" stroke-width="0.7"/>
<circle cx="462.7" cy="118.6" r="1.85" fill="#e4231f" stroke="#3a1414" stroke-width="0.7"/>
<circle cx="470" cy="112.4" r="1.85" fill="#e4231f" stroke="#3a1414" stroke-width="0.7"/>
<circle cx="472.2" cy="116" r="1.85" fill="#e4231f" stroke="#3a1414" stroke-width="0.7"/>
<circle cx="475.1" cy="111.6" r="1.85" fill="#e4231f" stroke="#3a1414" stroke-width="0.7"/>
<circle cx="485.3" cy="115.3" r="1.85" fill="#e4231f" stroke="#3a1414" stroke-width="0.7"/>
<circle cx="451.1" cy="119.6" r="1.85" fill="#e4231f" stroke="#3a1414" stroke-width="0.7"/>
<circle cx="451.8" cy="126.9" r="1.85" fill="#e4231f" stroke="#3a1414" stroke-width="0.7"/>
<circle cx="454.7" cy="127.6" r="1.85" fill="#e4231f" stroke="#3a1414" stroke-width="0.7"/>
<circle cx="458.4" cy="127.6" r="1.85" fill="#e4231f" stroke="#3a1414" stroke-width="0.7"/>
<circle cx="467.1" cy="122.5" r="1.85" fill="#e4231f" stroke="#3a1414" stroke-width="0.7"/>
<circle cx="469.3" cy="121.8" r="1.85" fill="#e4231f" stroke="#3a1414" stroke-width="0.7"/>
<circle cx="446" cy="132.7" r="1.85" fill="#e4231f" stroke="#3a1414" stroke-width="0.7"/>
<circle cx="446" cy="136.4" r="1.85" fill="#e4231f" stroke="#3a1414" stroke-width="0.7"/>
<circle cx="460.5" cy="134.9" r="1.85" fill="#e4231f" stroke="#3a1414" stroke-width="0.7"/>
<circle cx="467.8" cy="138.5" r="1.85" fill="#e4231f" stroke="#3a1414" stroke-width="0.7"/>
<circle cx="480.2" cy="138.5" r="1.85" fill="#e4231f" stroke="#3a1414" stroke-width="0.7"/>
<circle cx="482.4" cy="139.6" r="1.85" fill="#e4231f" stroke="#3a1414" stroke-width="0.7"/>
<circle cx="490.4" cy="142.9" r="1.85" fill="#e4231f" stroke="#3a1414" stroke-width="0.7"/>
<circle cx="444.5" cy="139.3" r="1.85" fill="#e4231f" stroke="#3a1414" stroke-width="0.7"/>
<circle cx="446.7" cy="140" r="1.85" fill="#e4231f" stroke="#3a1414" stroke-width="0.7"/>
<circle cx="438.7" cy="127.6" r="1.85" fill="#e4231f" stroke="#3a1414" stroke-width="0.7"/>
<circle cx="471.5" cy="144.8" r="1.85" fill="#e4231f" stroke="#3a1414" stroke-width="0.7"/>
<circle cx="444.5" cy="158.2" r="1.85" fill="#e4231f" stroke="#3a1414" stroke-width="0.7"/>
<circle cx="325.9" cy="152.9" r="1.85" fill="#e4231f" stroke="#3a1414" stroke-width="0.7"/>
<circle cx="298.6" cy="169.6" r="1.85" fill="#e4231f" stroke="#3a1414" stroke-width="0.7"/>
<circle cx="318.3" cy="168" r="1.85" fill="#e4231f" stroke="#3a1414" stroke-width="0.7"/>
<circle cx="315.5" cy="172.9" r="1.85" fill="#e4231f" stroke="#3a1414" stroke-width="0.7"/>
<circle cx="332.5" cy="163.1" r="1.85" fill="#e4231f" stroke="#3a1414" stroke-width="0.7"/>
<circle cx="301.4" cy="187.6" r="1.85" fill="#e4231f" stroke="#3a1414" stroke-width="0.7"/>
<circle cx="293.5" cy="192.5" r="1.85" fill="#e4231f" stroke="#3a1414" stroke-width="0.7"/>
<circle cx="301.9" cy="194.2" r="1.85" fill="#e4231f" stroke="#3a1414" stroke-width="0.7"/>
<circle cx="334.1" cy="185.5" r="1.85" fill="#e4231f" stroke="#3a1414" stroke-width="0.7"/>
<circle cx="379.3" cy="150.1" r="1.85" fill="#e4231f" stroke="#3a1414" stroke-width="0.7"/>
<circle cx="352.2" cy="157.9" r="1.85" fill="#e4231f" stroke="#3a1414" stroke-width="0.7"/>
<circle cx="359.6" cy="181.1" r="1.85" fill="#e4231f" stroke="#3a1414" stroke-width="0.7"/>
<circle cx="354.2" cy="190.6" r="1.85" fill="#e4231f" stroke="#3a1414" stroke-width="0.7"/>
<circle cx="396.2" cy="177.5" r="1.85" fill="#e4231f" stroke="#3a1414" stroke-width="0.7"/>
<circle cx="354.4" cy="204.3" r="1.85" fill="#e4231f" stroke="#3a1414" stroke-width="0.7"/>
<path d="M411.45 142.58L413.3 139.44L409.6 139.44Z" fill="#ffe600" stroke="#222" stroke-width="0.65"/>
<path d="M449.5 74.55L451.35 71.41L447.65 71.41Z" fill="#ffe600" stroke="#222" stroke-width="0.65"/>
<path d="M468.3 73.85L470.15 70.7L466.45 70.7Z" fill="#ffe600" stroke="#222" stroke-width="0.65"/>
<path d="M476.3 73.55L478.15 70.41L474.45 70.41Z" fill="#ffe600" stroke="#222" stroke-width="0.65"/>
<path d="M481.7 73.85L483.55 70.7L479.85 70.7Z" fill="#ffe600" stroke="#222" stroke-width="0.65"/>
<path d="M490.7 67.25L492.55 64.11L488.85 64.11Z" fill="#ffe600" stroke="#222" stroke-width="0.65"/>
<path d="M498.8 78.05L500.65 74.91L496.95 74.91Z" fill="#ffe600" stroke="#222" stroke-width="0.65"/>
<path d="M479.2 76.75L481.05 73.61L477.35 73.61Z" fill="#ffe600" stroke="#222" stroke-width="0.65"/>
<path d="M481.4 79.35L483.25 76.2L479.55 76.2Z" fill="#ffe600" stroke="#222" stroke-width="0.65"/>
<path d="M478.8 80.55L480.65 77.41L476.95 77.41Z" fill="#ffe600" stroke="#222" stroke-width="0.65"/>
<path d="M485.6 83.75L487.45 80.61L483.75 80.61Z" fill="#ffe600" stroke="#222" stroke-width="0.65"/>
<path d="M465.2 84.75L467.05 81.61L463.35 81.61Z" fill="#ffe600" stroke="#222" stroke-width="0.65"/>
<path d="M473.3 84.35L475.15 81.2L471.45 81.2Z" fill="#ffe600" stroke="#222" stroke-width="0.65"/>
<path d="M470.3 85.65L472.15 82.5L468.45 82.5Z" fill="#ffe600" stroke="#222" stroke-width="0.65"/>
<path d="M467.4 87.85L469.25 84.7L465.55 84.7Z" fill="#ffe600" stroke="#222" stroke-width="0.65"/>
<path d="M471.6 87.85L473.45 84.7L469.75 84.7Z" fill="#ffe600" stroke="#222" stroke-width="0.65"/>
<path d="M452.5 92.05L454.35 88.91L450.65 88.91Z" fill="#ffe600" stroke="#222" stroke-width="0.65"/>
<path d="M445.7 92.05L447.55 88.91L443.85 88.91Z" fill="#ffe600" stroke="#222" stroke-width="0.65"/>
<path d="M455.3 94.95L457.15 91.8L453.45 91.8Z" fill="#ffe600" stroke="#222" stroke-width="0.65"/>
<path d="M462.9 95.85L464.75 92.7L461.05 92.7Z" fill="#ffe600" stroke="#222" stroke-width="0.65"/>
<path d="M483.3 91.35L485.15 88.2L481.45 88.2Z" fill="#ffe600" stroke="#222" stroke-width="0.65"/>
<path d="M478.4 90.75L480.25 87.61L476.55 87.61Z" fill="#ffe600" stroke="#222" stroke-width="0.65"/>
<path d="M490.7 95.85L492.55 92.7L488.85 92.7Z" fill="#ffe600" stroke="#222" stroke-width="0.65"/>
<path d="M471.8 96.75L473.65 93.61L469.95 93.61Z" fill="#ffe600" stroke="#222" stroke-width="0.65"/>
<path d="M501.7 104.35L503.55 101.2L499.85 101.2Z" fill="#ffe600" stroke="#222" stroke-width="0.65"/>
<path d="M437.9 79.35L439.75 76.2L436.05 76.2Z" fill="#ffe600" stroke="#222" stroke-width="0.65"/>
<path d="M411.3 94.35L413.15 91.2L409.45 91.2Z" fill="#ffe600" stroke="#222" stroke-width="0.65"/>
<path d="M411.9 100.25L413.75 97.11L410.05 97.11Z" fill="#ffe600" stroke="#222" stroke-width="0.65"/>
<path d="M439.1 92.85L440.95 89.7L437.25 89.7Z" fill="#ffe600" stroke="#222" stroke-width="0.65"/>
<path d="M434.4 102.65L436.25 99.5L432.55 99.5Z" fill="#ffe600" stroke="#222" stroke-width="0.65"/>
<path d="M437.3 103.85L439.15 100.7L435.45 100.7Z" fill="#ffe600" stroke="#222" stroke-width="0.65"/>
<path d="M427.3 108.55L429.15 105.41L425.45 105.41Z" fill="#ffe600" stroke="#222" stroke-width="0.65"/>
<path d="M439.1 109.35L440.95 106.2L437.25 106.2Z" fill="#ffe600" stroke="#222" stroke-width="0.65"/>
<path d="M395.4 121.85L397.25 118.7L393.55 118.7Z" fill="#ffe600" stroke="#222" stroke-width="0.65"/>
<path d="M401.3 119.55L403.15 116.41L399.45 116.41Z" fill="#ffe600" stroke="#222" stroke-width="0.65"/>
<path d="M420.8 125.65L422.65 122.5L418.95 122.5Z" fill="#ffe600" stroke="#222" stroke-width="0.65"/>
<path d="M447.6 102.55L449.45 99.41L445.75 99.41Z" fill="#ffe600" stroke="#222" stroke-width="0.65"/>
<path d="M461 110.25L462.85 107.11L459.15 107.11Z" fill="#ffe600" stroke="#222" stroke-width="0.65"/>
<path d="M458.8 114.05L460.65 110.91L456.95 110.91Z" fill="#ffe600" stroke="#222" stroke-width="0.65"/>
<path d="M467.4 116.55L469.25 113.41L465.55 113.41Z" fill="#ffe600" stroke="#222" stroke-width="0.65"/>
<path d="M471.8 106.35L473.65 103.2L469.95 103.2Z" fill="#ffe600" stroke="#222" stroke-width="0.65"/>
<path d="M474.1 108.95L475.95 105.8L472.25 105.8Z" fill="#ffe600" stroke="#222" stroke-width="0.65"/>
<path d="M482 109.55L483.85 106.41L480.15 106.41Z" fill="#ffe600" stroke="#222" stroke-width="0.65"/>
<path d="M490.3 106.35L492.15 103.2L488.45 103.2Z" fill="#ffe600" stroke="#222" stroke-width="0.65"/>
<path d="M445.7 112.75L447.55 109.61L443.85 109.61Z" fill="#ffe600" stroke="#222" stroke-width="0.65"/>
<path d="M444.8 123.85L446.65 120.7L442.95 120.7Z" fill="#ffe600" stroke="#222" stroke-width="0.65"/>
<path d="M457.2 118.75L459.05 115.61L455.35 115.61Z" fill="#ffe600" stroke="#222" stroke-width="0.65"/>
<path d="M299 132.35L300.85 129.21L297.15 129.21Z" fill="#ffe600" stroke="#222" stroke-width="0.65"/>
<path d="M302.2 136.55L304.05 133.41L300.35 133.41Z" fill="#ffe600" stroke="#222" stroke-width="0.65"/>
<path d="M325.9 131.05L327.75 127.9L324.05 127.9Z" fill="#ffe600" stroke="#222" stroke-width="0.65"/>
<path d="M331.4 126.95L333.25 123.8L329.55 123.8Z" fill="#ffe600" stroke="#222" stroke-width="0.65"/>
<path d="M316.1 152.05L317.95 148.91L314.25 148.91Z" fill="#ffe600" stroke="#222" stroke-width="0.65"/>
<path d="M334.6 152.55L336.45 149.41L332.75 149.41Z" fill="#ffe600" stroke="#222" stroke-width="0.65"/>
<path d="M293.5 154.45L295.35 151.31L291.65 151.31Z" fill="#ffe600" stroke="#222" stroke-width="0.65"/>
<path d="M356.9 115.95L358.75 112.8L355.05 112.8Z" fill="#ffe600" stroke="#222" stroke-width="0.65"/>
<path d="M379.3 119.75L381.15 116.61L377.45 116.61Z" fill="#ffe600" stroke="#222" stroke-width="0.65"/>
<path d="M396.2 122.45L398.05 119.3L394.35 119.3Z" fill="#ffe600" stroke="#222" stroke-width="0.65"/>
<path d="M373.8 133.75L375.65 130.61L371.95 130.61Z" fill="#ffe600" stroke="#222" stroke-width="0.65"/>
<path d="M352.2 138.85L354.05 135.71L350.35 135.71Z" fill="#ffe600" stroke="#222" stroke-width="0.65"/>
<path d="M359.1 147.55L360.95 144.41L357.25 144.41Z" fill="#ffe600" stroke="#222" stroke-width="0.65"/>
<path d="M354.2 149.75L356.05 146.61L352.35 146.61Z" fill="#ffe600" stroke="#222" stroke-width="0.65"/>
<path d="M354.2 180.75L356.05 177.61L352.35 177.61Z" fill="#ffe600" stroke="#222" stroke-width="0.65"/>
<path d="M424.5 133.32L426.5 136.82L422.5 136.82Z" fill="#111111"/>
<path d="M490.7 52.9L492.7 56.4L488.7 56.4Z" fill="#111111"/>
<path d="M481.7 64L483.7 67.5L479.7 67.5Z" fill="#111111"/>
<path d="M485.8 73.5L487.8 77L483.8 77Z" fill="#111111"/>
<path d="M468.3 75.5L470.3 79L466.3 79Z" fill="#111111"/>
<path d="M465.2 77.6L467.2 81.1L463.2 81.1Z" fill="#111111"/>
<path d="M476.3 74.8L478.3 78.3L474.3 78.3Z" fill="#111111"/>
<path d="M478.4 81.8L480.4 85.3L476.4 85.3Z" fill="#111111"/>
<path d="M483.3 77.1L485.3 80.6L481.3 80.6Z" fill="#111111"/>
<path d="M464.2 81.2L466.2 84.7L462.2 84.7Z" fill="#111111"/>
<path d="M449.5 84.4L451.5 87.9L447.5 87.9Z" fill="#111111"/>
<path d="M452.5 84.4L454.5 87.9L450.5 87.9Z" fill="#111111"/>
<path d="M446.1 93.9L448.1 97.4L444.1 97.4Z" fill="#111111"/>
<path d="M462.3 86.9L464.3 90.4L460.3 90.4Z" fill="#111111"/>
<path d="M470.5 86.3L472.5 89.8L468.5 89.8Z" fill="#111111"/>
<path d="M474.4 88.8L476.4 92.3L472.4 92.3Z" fill="#111111"/>
<path d="M467.4 90.1L469.4 93.6L465.4 93.6Z" fill="#111111"/>
<path d="M501.7 86.9L503.7 90.4L499.7 90.4Z" fill="#111111"/>
<path d="M490.7 83.7L492.7 87.2L488.7 87.2Z" fill="#111111"/>
<path d="M460.4 93.3L462.4 96.8L458.4 96.8Z" fill="#111111"/>
<path d="M474.1 96.5L476.1 100L472.1 100Z" fill="#111111"/>
<path d="M490.3 97.7L492.3 101.2L488.3 101.2Z" fill="#111111"/>
<path d="M455 99L457 102.5L453 102.5Z" fill="#111111"/>
<path d="M412.2 82.6L414.2 86.1L410.2 86.1Z" fill="#111111"/>
<path d="M411.3 96.1L413.3 99.6L409.3 99.6Z" fill="#111111"/>
<path d="M427.3 91.3L429.3 94.8L425.3 94.8Z" fill="#111111"/>
<path d="M427 101.5L429 105L425 105Z" fill="#111111"/>
<path d="M439.1 83.1L441.1 86.6L437.1 86.6Z" fill="#111111"/>
<path d="M437.9 92.9L439.9 96.4L435.9 96.4Z" fill="#111111"/>
<path d="M436.7 104.7L438.7 108.2L434.7 108.2Z" fill="#111111"/>
<path d="M420.8 116.2L422.8 119.7L418.8 119.7Z" fill="#111111"/>
<path d="M434.4 115.3L436.4 118.8L432.4 118.8Z" fill="#111111"/>
<path d="M401.3 122.8L403.3 126.3L399.3 126.3Z" fill="#111111"/>
<path d="M454.6 99.4L456.6 102.9L452.6 102.9Z" fill="#111111"/>
<path d="M445.7 112.1L447.7 115.6L443.7 115.6Z" fill="#111111"/>
<path d="M447 119.7L449 123.2L445 123.2Z" fill="#111111"/>
<path d="M325.9 107.6L327.9 111.1L323.9 111.1Z" fill="#111111"/>
<path d="M331.4 113.3L333.4 116.8L329.4 116.8Z" fill="#111111"/>
<path d="M333 118.2L335 121.7L331 121.7Z" fill="#111111"/>
<path d="M317.9 122L319.9 125.5L315.9 125.5Z" fill="#111111"/>
<path d="M302.2 124.7L304.2 128.2L300.2 128.2Z" fill="#111111"/>
<path d="M299 133.1L301 136.6L297 136.6Z" fill="#111111"/>
<path d="M330.8 128.3L332.8 131.8L328.8 131.8Z" fill="#111111"/>
<path d="M316.1 139.2L318.1 142.7L314.1 142.7Z" fill="#111111"/>
<path d="M293.5 153.6L295.5 157.1L291.5 157.1Z" fill="#111111"/>
<path d="M352.2 119.7L354.2 123.2L350.2 123.2Z" fill="#111111"/>
<path d="M373.8 115.7L375.8 119.2L371.8 119.2Z" fill="#111111"/>
<path d="M379.3 113.7L381.3 117.2L377.3 117.2Z" fill="#111111"/>
<path d="M359.1 138.8L361.1 142.3L357.1 142.3Z" fill="#111111"/>
<path d="M354.2 174.7L356.2 178.2L352.2 178.2Z" fill="#111111"/>
<line x1="293.31" y1="185.15" x2="501.01" y2="138.29" stroke="#777" stroke-width="1.2"/>
<line x1="293.31" y1="209.02" x2="501.01" y2="125.66" stroke="#f7931e" stroke-width="1.2"/>
<line x1="293.31" y1="192.17" x2="501.01" y2="123.38" stroke="#e8409c" stroke-width="1.2"/>
<line x1="293.31" y1="194.1" x2="501.01" y2="116.36" stroke="#e4231f" stroke-width="1.2"/>
<line x1="293.31" y1="179.19" x2="501.01" y2="97.58" stroke="#22b5e6" stroke-width="1.2"/>
<line x1="293.31" y1="149.35" x2="501.01" y2="102.67" stroke="#8b4cc0" stroke-width="1.2"/>
<line x1="293.31" y1="147.42" x2="501.01" y2="95.47" stroke="#1fb24a" stroke-width="1.2"/>
<line x1="293.31" y1="151.11" x2="501.01" y2="84.24" stroke="#ffe600" stroke-width="1.2"/>
<line x1="293.31" y1="145.14" x2="501.01" y2="81.08" stroke="#111111" stroke-width="1.0"/>
<line x1="508.2" y1="12.5" x2="518.4" y2="12.5" stroke="#e8409c" stroke-width="1.2"/>
<circle cx="513.3" cy="12.4" r="1.8" fill="#e8409c"/>
<text x="520" y="14.4" font-size="5.5" text-anchor="start" fill="#333">PLAUR</text>
<line x1="508.2" y1="19.5" x2="518.4" y2="19.5" stroke="#1fb24a" stroke-width="1.2"/>
<rect x="511.95" y="17.85" width="2.7" height="2.7" fill="#1fb24a"/>
<text x="520" y="21.2" font-size="5.5" text-anchor="start" fill="#333">ITGB1</text>
<line x1="508.2" y1="26.5" x2="518.4" y2="26.5" stroke="#22b5e6" stroke-width="1.2"/>
<path d="M513.3 23.35L515.95 27.99L510.65 27.99Z" fill="#22b5e6"/>
<text x="520" y="28" font-size="5.5" text-anchor="start" fill="#333">FHL2</text>
<line x1="508.2" y1="32.5" x2="518.4" y2="32.5" stroke="#f7931e" stroke-width="1.2"/>
<path d="M513.3 35.35L515.85 30.89L510.75 30.89Z" fill="#f7931e"/>
<text x="520" y="34.8" font-size="5.5" text-anchor="start" fill="#333">TGFB1I1</text>
<line x1="508.2" y1="39.5" x2="518.4" y2="39.5" stroke="#8b4cc0" stroke-width="1.2"/>
<path d="M513.3 37.75L515.15 39.6L513.3 41.45L511.45 39.6Z" fill="#8b4cc0"/>
<text x="520" y="41.6" font-size="5.5" text-anchor="start" fill="#333">VCL</text>
<line x1="508.2" y1="46.5" x2="518.4" y2="46.5" stroke="#e4231f" stroke-width="1.2"/>
<circle cx="513.3" cy="46.4" r="1.6" fill="#e4231f" stroke="#3a1414" stroke-width="0.7"/>
<text x="520" y="48.4" font-size="5.5" text-anchor="start" fill="#333">SERPINE1</text>
<line x1="508.2" y1="53.5" x2="518.4" y2="53.5" stroke="#b0b0b0" stroke-width="1.2"/>
<rect x="511.61" y="51.51" width="3.38" height="3.38" rx="0.3" fill="#b0b0b0" stroke="#333" stroke-width="0.85"/>
<text x="520" y="55.2" font-size="5.5" text-anchor="start" fill="#333">ITGA5</text>
<line x1="508.2" y1="60.5" x2="518.4" y2="60.5" stroke="#111111" stroke-width="1.2"/>
<path d="M513.3 58.1L515.2 61.42L511.4 61.42Z" fill="#111111"/>
<text x="520" y="62" font-size="5.5" text-anchor="start" fill="#333">CTGF</text>
<line x1="508.2" y1="66.5" x2="518.4" y2="66.5" stroke="#ffe600" stroke-width="1.2"/>
<path d="M513.3 69.3L515.8 65.05L510.8 65.05Z" fill="#ffe600" stroke="#222" stroke-width="0.65"/>
<text x="520" y="68.8" font-size="5.5" text-anchor="start" fill="#333">CYR61</text>
<text x="3.8" y="183.5" font-size="19.7" text-anchor="start" fill="#111">C</text>
<line x1="47.5" y1="189.9" x2="47.5" y2="320.58" stroke="#333" stroke-width="1"/>
<line x1="44.8" y1="189.5" x2="47.2" y2="189.5" stroke="#333" stroke-width="1"/>
<text x="44" y="192.9" font-size="8.5" text-anchor="end" fill="#1a1a1a">5</text>
<line x1="44.8" y1="211.5" x2="47.2" y2="211.5" stroke="#333" stroke-width="1"/>
<text x="44" y="214.68" font-size="8.5" text-anchor="end" fill="#1a1a1a">4</text>
<line x1="44.8" y1="233.5" x2="47.2" y2="233.5" stroke="#333" stroke-width="1"/>
<text x="44" y="236.46" font-size="8.5" text-anchor="end" fill="#1a1a1a">3</text>
<line x1="44.8" y1="255.5" x2="47.2" y2="255.5" stroke="#333" stroke-width="1"/>
<text x="44" y="258.24" font-size="8.5" text-anchor="end" fill="#1a1a1a">2</text>
<line x1="44.8" y1="277.5" x2="47.2" y2="277.5" stroke="#333" stroke-width="1"/>
<text x="44" y="280.02" font-size="8.5" text-anchor="end" fill="#1a1a1a">1</text>
<line x1="44.8" y1="298.5" x2="47.2" y2="298.5" stroke="#333" stroke-width="1"/>
<text x="44" y="301.8" font-size="8.5" text-anchor="end" fill="#1a1a1a">0</text>
<line x1="44.8" y1="320.5" x2="47.2" y2="320.5" stroke="#333" stroke-width="1"/>
<text x="44" y="323.58" font-size="8.5" text-anchor="end" fill="#1a1a1a">-1</text>
<line x1="47.2" y1="298.5" x2="177.8" y2="298.5" stroke="#333" stroke-width="1.1"/>
<text x="0" y="0" font-size="7.2" text-anchor="middle" fill="#333" transform="translate(29.2,251.3) rotate(-90)">log<tspan font-size="5" dy="1.8">2</tspan><tspan dy="-1.8"> median-centered intensity</tspan></text>
<text x="112.85" y="183.6" font-size="9" text-anchor="middle" fill="#222">Badea Pancreas</text>
<line x1="80.5" y1="301" x2="80.5" y2="298.6" stroke="#333" stroke-width="1"/>
<line x1="147.5" y1="298.6" x2="147.5" y2="301" stroke="#333" stroke-width="1"/>
<path d="M81.5 215.7V199.5H147.5V205.5" fill="none" stroke="#333" stroke-width="1"/>
<text x="147.2" y="201.2" font-size="10" text-anchor="middle" fill="#222" font-weight="bold">***</text>
<circle cx="72.7" cy="219.2" r="1.45" fill="#2a50b5"/>
<circle cx="77.6" cy="221" r="1.45" fill="#2a50b5"/>
<circle cx="87.1" cy="219.8" r="1.45" fill="#2a50b5"/>
<circle cx="82.4" cy="223.2" r="1.45" fill="#2a50b5"/>
<circle cx="82.4" cy="226.1" r="1.45" fill="#2a50b5"/>
<circle cx="77.6" cy="228.5" r="1.45" fill="#2a50b5"/>
<circle cx="77.6" cy="234.8" r="1.45" fill="#2a50b5"/>
<circle cx="82.4" cy="235.7" r="1.45" fill="#2a50b5"/>
<circle cx="72.7" cy="240.2" r="1.45" fill="#2a50b5"/>
<circle cx="77.6" cy="241.8" r="1.45" fill="#2a50b5"/>
<circle cx="82.4" cy="240.8" r="1.45" fill="#2a50b5"/>
<circle cx="87.1" cy="239.7" r="1.45" fill="#2a50b5"/>
<circle cx="70.4" cy="245.4" r="1.45" fill="#2a50b5"/>
<circle cx="75.4" cy="248" r="1.45" fill="#2a50b5"/>
<circle cx="80" cy="248.2" r="1.45" fill="#2a50b5"/>
<circle cx="84.8" cy="246.3" r="1.45" fill="#2a50b5"/>
<circle cx="89.5" cy="245" r="1.45" fill="#2a50b5"/>
<circle cx="77.6" cy="252.9" r="1.45" fill="#2a50b5"/>
<circle cx="82.4" cy="252.5" r="1.45" fill="#2a50b5"/>
<circle cx="77.6" cy="257.5" r="1.45" fill="#2a50b5"/>
<circle cx="82.4" cy="259.9" r="1.45" fill="#2a50b5"/>
<circle cx="82.4" cy="268.1" r="1.45" fill="#2a50b5"/>
<circle cx="77.6" cy="270.5" r="1.45" fill="#2a50b5"/>
<circle cx="70.4" cy="278.5" r="1.45" fill="#2a50b5"/>
<circle cx="75.4" cy="280" r="1.45" fill="#2a50b5"/>
<circle cx="80" cy="280.9" r="1.45" fill="#2a50b5"/>
<circle cx="84.8" cy="279.8" r="1.45" fill="#2a50b5"/>
<circle cx="89.5" cy="277.6" r="1.45" fill="#2a50b5"/>
<circle cx="70.4" cy="289.2" r="1.45" fill="#2a50b5"/>
<circle cx="75.4" cy="290.8" r="1.45" fill="#2a50b5"/>
<circle cx="80" cy="293.2" r="1.45" fill="#2a50b5"/>
<circle cx="84.8" cy="291.2" r="1.45" fill="#2a50b5"/>
<circle cx="89.5" cy="290.2" r="1.45" fill="#2a50b5"/>
<circle cx="77.6" cy="296.9" r="1.45" fill="#2a50b5"/>
<circle cx="82.4" cy="298" r="1.45" fill="#2a50b5"/>
<circle cx="72.7" cy="305" r="1.45" fill="#2a50b5"/>
<circle cx="77.6" cy="308.8" r="1.45" fill="#2a50b5"/>
<circle cx="82.4" cy="306.2" r="1.45" fill="#2a50b5"/>
<circle cx="87.1" cy="304.7" r="1.45" fill="#2a50b5"/>
<line x1="58.4" y1="262.5" x2="101.6" y2="262.5" stroke="#333" stroke-width="1"/>
<rect x="146.3" y="208.8" width="2.8" height="2.8" fill="#f02222"/>
<rect x="141.6" y="210" width="2.8" height="2.8" fill="#f02222"/>
<rect x="137" y="213.9" width="2.8" height="2.8" fill="#f02222"/>
<rect x="141.6" y="214.1" width="2.8" height="2.8" fill="#f02222"/>
<rect x="150.9" y="213.9" width="2.8" height="2.8" fill="#f02222"/>
<rect x="146.3" y="216.1" width="2.8" height="2.8" fill="#f02222"/>
<rect x="127.2" y="217.9" width="2.8" height="2.8" fill="#f02222"/>
<rect x="132.1" y="219.7" width="2.8" height="2.8" fill="#f02222"/>
<rect x="137" y="220.6" width="2.8" height="2.8" fill="#f02222"/>
<rect x="141.6" y="221.3" width="2.8" height="2.8" fill="#f02222"/>
<rect x="146.3" y="220.9" width="2.8" height="2.8" fill="#f02222"/>
<rect x="150.9" y="220.6" width="2.8" height="2.8" fill="#f02222"/>
<rect x="155.9" y="219.3" width="2.8" height="2.8" fill="#f02222"/>
<rect x="160.6" y="217.2" width="2.8" height="2.8" fill="#f02222"/>
<rect x="127.2" y="222.7" width="2.8" height="2.8" fill="#f02222"/>
<rect x="132.1" y="223" width="2.8" height="2.8" fill="#f02222"/>
<rect x="137" y="224.8" width="2.8" height="2.8" fill="#f02222"/>
<rect x="141.6" y="225.9" width="2.8" height="2.8" fill="#f02222"/>
<rect x="146.3" y="227" width="2.8" height="2.8" fill="#f02222"/>
<rect x="150.9" y="225" width="2.8" height="2.8" fill="#f02222"/>
<rect x="155.9" y="223.6" width="2.8" height="2.8" fill="#f02222"/>
<rect x="160.6" y="223" width="2.8" height="2.8" fill="#f02222"/>
<rect x="127.2" y="229.1" width="2.8" height="2.8" fill="#f02222"/>
<rect x="132.1" y="230.6" width="2.8" height="2.8" fill="#f02222"/>
<rect x="137" y="232.1" width="2.8" height="2.8" fill="#f02222"/>
<rect x="141.6" y="232.4" width="2.8" height="2.8" fill="#f02222"/>
<rect x="146.3" y="232.2" width="2.8" height="2.8" fill="#f02222"/>
<rect x="150.9" y="230.9" width="2.8" height="2.8" fill="#f02222"/>
<rect x="155.9" y="230" width="2.8" height="2.8" fill="#f02222"/>
<rect x="160.6" y="227.9" width="2.8" height="2.8" fill="#f02222"/>
<rect x="129.7" y="235.1" width="2.8" height="2.8" fill="#f02222"/>
<rect x="134.5" y="235.1" width="2.8" height="2.8" fill="#f02222"/>
<rect x="148.6" y="235.4" width="2.8" height="2.8" fill="#f02222"/>
<rect x="153.3" y="235.1" width="2.8" height="2.8" fill="#f02222"/>
<rect x="158.1" y="234.8" width="2.8" height="2.8" fill="#f02222"/>
<rect x="139.3" y="238.4" width="2.8" height="2.8" fill="#f02222"/>
<rect x="144.1" y="238.6" width="2.8" height="2.8" fill="#f02222"/>
<rect x="146.6" y="239.1" width="2.8" height="2.8" fill="#f02222"/>
<rect x="141.6" y="243.9" width="2.8" height="2.8" fill="#f02222"/>
<line x1="123.8" y1="227.5" x2="166.8" y2="227.5" stroke="#333" stroke-width="1"/>
<text x="0" y="0" font-size="7.6" text-anchor="end" fill="#333" transform="translate(82.3,319.5) rotate(-45)">Pancreas</text>
<text x="0" y="0" font-size="7.6" text-anchor="end" fill="#333" transform="translate(121.5,325.5) rotate(-45)">Ductal</text>
<text x="0" y="0" font-size="7.6" text-anchor="end" fill="#333" transform="translate(152.2,310) rotate(-45)">Adenocarcinoma</text>
<line x1="47.5" y1="360" x2="47.5" y2="499" stroke="#333" stroke-width="1"/>
<line x1="44.8" y1="360.5" x2="47.2" y2="360.5" stroke="#333" stroke-width="1"/>
<text x="44" y="363" font-size="8.5" text-anchor="end" fill="#1a1a1a">4</text>
<line x1="44.8" y1="387.5" x2="47.2" y2="387.5" stroke="#333" stroke-width="1"/>
<text x="44" y="390.8" font-size="8.5" text-anchor="end" fill="#1a1a1a">3</text>
<line x1="44.8" y1="415.5" x2="47.2" y2="415.5" stroke="#333" stroke-width="1"/>
<text x="44" y="418.6" font-size="8.5" text-anchor="end" fill="#1a1a1a">2</text>
<line x1="44.8" y1="443.5" x2="47.2" y2="443.5" stroke="#333" stroke-width="1"/>
<text x="44" y="446.4" font-size="8.5" text-anchor="end" fill="#1a1a1a">1</text>
<line x1="44.8" y1="471.5" x2="47.2" y2="471.5" stroke="#333" stroke-width="1"/>
<text x="44" y="474.2" font-size="8.5" text-anchor="end" fill="#1a1a1a">0</text>
<line x1="44.8" y1="499.5" x2="47.2" y2="499.5" stroke="#333" stroke-width="1"/>
<text x="44" y="502" font-size="8.5" text-anchor="end" fill="#1a1a1a">-1</text>
<line x1="47.2" y1="471.5" x2="185.7" y2="471.5" stroke="#333" stroke-width="1.1"/>
<text x="0" y="0" font-size="7.2" text-anchor="middle" fill="#333" transform="translate(29.2,416.9) rotate(-90)">log<tspan font-size="5" dy="1.8">2</tspan><tspan dy="-1.8"> median-centered intensity</tspan></text>
<text x="107.9" y="363.7" font-size="9" text-anchor="middle" fill="#222">Gumz Renal</text>
<line x1="82.5" y1="471" x2="82.5" y2="473.5" stroke="#333" stroke-width="1"/>
<line x1="151.5" y1="471" x2="151.5" y2="473.5" stroke="#333" stroke-width="1"/>
<path d="M82.5 435.2V375.5H151.5V381.1" fill="none" stroke="#333" stroke-width="1"/>
<text x="151.2" y="377.2" font-size="10" text-anchor="middle" fill="#222" font-weight="bold">***</text>
<circle cx="82" cy="441.8" r="1.55" fill="#2a50b5"/>
<circle cx="82" cy="455.4" r="1.55" fill="#2a50b5"/>
<circle cx="87" cy="456.5" r="1.55" fill="#2a50b5"/>
<circle cx="77.1" cy="461.1" r="1.55" fill="#2a50b5"/>
<circle cx="82" cy="463" r="1.55" fill="#2a50b5"/>
<circle cx="72.2" cy="464.9" r="1.55" fill="#2a50b5"/>
<circle cx="91.9" cy="465.5" r="1.55" fill="#2a50b5"/>
<circle cx="77.1" cy="470.1" r="1.55" fill="#2a50b5"/>
<circle cx="82" cy="471.7" r="1.55" fill="#2a50b5"/>
<circle cx="87" cy="470.6" r="1.55" fill="#2a50b5"/>
<line x1="59.1" y1="462.5" x2="105" y2="462.5" stroke="#333" stroke-width="1"/>
<line x1="70.6" y1="459.5" x2="93.5" y2="459.5" stroke="#333" stroke-width="1"/>
<line x1="70.6" y1="465.5" x2="93.5" y2="465.5" stroke="#333" stroke-width="1"/>
<rect x="150.1" y="385.5" width="2.6" height="3.4" fill="#f02222"/>
<rect x="147.5" y="407" width="2.6" height="3.4" fill="#f02222"/>
<rect x="152.6" y="408.2" width="2.6" height="3.4" fill="#f02222"/>
<rect x="145" y="413.1" width="2.6" height="3.4" fill="#f02222"/>
<rect x="150.1" y="415.7" width="2.6" height="3.4" fill="#f02222"/>
<rect x="155.3" y="414.3" width="2.6" height="3.4" fill="#f02222"/>
<rect x="155.3" y="418.6" width="2.6" height="3.4" fill="#f02222"/>
<rect x="145" y="420.3" width="2.6" height="3.4" fill="#f02222"/>
<rect x="150.1" y="424.9" width="2.6" height="3.4" fill="#f02222"/>
<rect x="150.1" y="443.6" width="2.6" height="3.4" fill="#f02222"/>
<line x1="128.3" y1="417.5" x2="174" y2="417.5" stroke="#333" stroke-width="1"/>
<line x1="139.9" y1="412.5" x2="162.9" y2="412.5" stroke="#333" stroke-width="1"/>
<line x1="139.9" y1="421.5" x2="162.9" y2="421.5" stroke="#333" stroke-width="1"/>
<line x1="151.5" y1="412.6" x2="151.5" y2="421.5" stroke="#333" stroke-width="0.8"/>
<text x="0" y="0" font-size="7.6" text-anchor="end" fill="#333" transform="translate(85.3,479.3) rotate(-45)">Kidney</text>
<text x="0" y="0" font-size="7.6" text-anchor="end" fill="#333" transform="translate(155.5,478.8) rotate(-45)">CCRCC</text>
<line x1="47.5" y1="516.6" x2="47.5" y2="651.8" stroke="#333" stroke-width="1"/>
<line x1="44.8" y1="516.5" x2="47.2" y2="516.5" stroke="#333" stroke-width="1"/>
<text x="44" y="519.6" font-size="8.5" text-anchor="end" fill="#1a1a1a">4</text>
<line x1="44.8" y1="550.5" x2="47.2" y2="550.5" stroke="#333" stroke-width="1"/>
<text x="44" y="553.4" font-size="8.5" text-anchor="end" fill="#1a1a1a">3</text>
<line x1="44.8" y1="584.5" x2="47.2" y2="584.5" stroke="#333" stroke-width="1"/>
<text x="44" y="587.2" font-size="8.5" text-anchor="end" fill="#1a1a1a">2</text>
<line x1="44.8" y1="618.5" x2="47.2" y2="618.5" stroke="#333" stroke-width="1"/>
<text x="44" y="621" font-size="8.5" text-anchor="end" fill="#1a1a1a">1</text>
<line x1="44.8" y1="651.5" x2="47.2" y2="651.5" stroke="#333" stroke-width="1"/>
<text x="44" y="654.8" font-size="8.5" text-anchor="end" fill="#1a1a1a">0</text>
<line x1="47.2" y1="651.5" x2="187" y2="651.5" stroke="#333" stroke-width="1.1"/>
<text x="0" y="0" font-size="7.2" text-anchor="middle" fill="#333" transform="translate(29.2,581.8) rotate(-90)">log<tspan font-size="5" dy="1.8">&#160;</tspan><tspan dy="-1.8"> median-centered intensity</tspan></text>
<text x="122.3" y="517.7" font-size="9" text-anchor="middle" fill="#222">Peng Head-Neck</text>
<line x1="81.5" y1="651.8" x2="81.5" y2="654.3" stroke="#333" stroke-width="1"/>
<line x1="152.5" y1="651.8" x2="152.5" y2="654.3" stroke="#333" stroke-width="1"/>
<path d="M81.5 594.2V532.5H152.5V538.9" fill="none" stroke="#333" stroke-width="1"/>
<text x="152" y="534.3" font-size="10" text-anchor="middle" fill="#222" font-weight="bold">***</text>
<circle cx="83.6" cy="598.6" r="1.5" fill="#2a50b5"/>
<circle cx="79.1" cy="601.1" r="1.5" fill="#2a50b5"/>
<circle cx="79.1" cy="604.8" r="1.5" fill="#2a50b5"/>
<circle cx="83.6" cy="607.3" r="1.5" fill="#2a50b5"/>
<circle cx="74.5" cy="612.3" r="1.5" fill="#2a50b5"/>
<circle cx="88.2" cy="612.3" r="1.5" fill="#2a50b5"/>
<circle cx="79.1" cy="615" r="1.5" fill="#2a50b5"/>
<circle cx="83.6" cy="615" r="1.5" fill="#2a50b5"/>
<circle cx="90.3" cy="618.2" r="1.5" fill="#2a50b5"/>
<circle cx="72.3" cy="620.5" r="1.5" fill="#2a50b5"/>
<circle cx="76.8" cy="620.9" r="1.5" fill="#2a50b5"/>
<circle cx="81.4" cy="621.4" r="1.5" fill="#2a50b5"/>
<circle cx="85.9" cy="620.9" r="1.5" fill="#2a50b5"/>
<circle cx="63.4" cy="622" r="1.5" fill="#2a50b5"/>
<circle cx="67.9" cy="623.5" r="1.5" fill="#2a50b5"/>
<circle cx="72.3" cy="625" r="1.5" fill="#2a50b5"/>
<circle cx="76.8" cy="626.8" r="1.5" fill="#2a50b5"/>
<circle cx="81.4" cy="627.5" r="1.5" fill="#2a50b5"/>
<circle cx="85.9" cy="627.3" r="1.5" fill="#2a50b5"/>
<circle cx="90.5" cy="626.5" r="1.5" fill="#2a50b5"/>
<circle cx="94.8" cy="623.5" r="1.5" fill="#2a50b5"/>
<circle cx="99.4" cy="622.9" r="1.5" fill="#2a50b5"/>
<rect x="70" y="616.4" width="22.7" height="3.1" fill="none" stroke="#999" stroke-width="0.9"/>
<line x1="58.2" y1="618.5" x2="104.7" y2="618.5" stroke="#888" stroke-width="1.1"/>
<rect x="148.1" y="543.6" width="2.8" height="2.8" fill="#f02222"/>
<rect x="152.8" y="542.8" width="2.8" height="2.8" fill="#f02222"/>
<rect x="148.1" y="559.8" width="2.8" height="2.8" fill="#f02222"/>
<rect x="152.8" y="560.1" width="2.8" height="2.8" fill="#f02222"/>
<rect x="148.1" y="566.1" width="2.8" height="2.8" fill="#f02222"/>
<rect x="148.1" y="568.1" width="2.8" height="2.8" fill="#f02222"/>
<rect x="152.8" y="565.8" width="2.8" height="2.8" fill="#f02222"/>
<rect x="146.1" y="574.8" width="2.8" height="2.8" fill="#f02222"/>
<rect x="152.8" y="572.4" width="2.8" height="2.8" fill="#f02222"/>
<rect x="155.1" y="575.4" width="2.8" height="2.8" fill="#f02222"/>
<rect x="150.6" y="579.1" width="2.8" height="2.8" fill="#f02222"/>
<rect x="137.1" y="582.1" width="2.8" height="2.8" fill="#f02222"/>
<rect x="137.1" y="586.9" width="2.8" height="2.8" fill="#f02222"/>
<rect x="141.6" y="583.6" width="2.8" height="2.8" fill="#f02222"/>
<rect x="141.6" y="588.3" width="2.8" height="2.8" fill="#f02222"/>
<rect x="146.1" y="584.8" width="2.8" height="2.8" fill="#f02222"/>
<rect x="146.1" y="589.1" width="2.8" height="2.8" fill="#f02222"/>
<rect x="150.6" y="586.1" width="2.8" height="2.8" fill="#f02222"/>
<rect x="155.1" y="584.6" width="2.8" height="2.8" fill="#f02222"/>
<rect x="159.6" y="582.6" width="2.8" height="2.8" fill="#f02222"/>
<rect x="159.6" y="588.3" width="2.8" height="2.8" fill="#f02222"/>
<rect x="164.1" y="580.6" width="2.8" height="2.8" fill="#f02222"/>
<rect x="164.1" y="587.1" width="2.8" height="2.8" fill="#f02222"/>
<rect x="150.6" y="591.6" width="2.8" height="2.8" fill="#f02222"/>
<rect x="155.1" y="590.8" width="2.8" height="2.8" fill="#f02222"/>
<rect x="130.4" y="594.6" width="2.8" height="2.8" fill="#f02222"/>
<rect x="134.8" y="596.6" width="2.8" height="2.8" fill="#f02222"/>
<rect x="139.1" y="598.1" width="2.8" height="2.8" fill="#f02222"/>
<rect x="143.9" y="598.1" width="2.8" height="2.8" fill="#f02222"/>
<rect x="161.6" y="598.1" width="2.8" height="2.8" fill="#f02222"/>
<rect x="166.1" y="597.1" width="2.8" height="2.8" fill="#f02222"/>
<rect x="170.8" y="595.1" width="2.8" height="2.8" fill="#f02222"/>
<rect x="148.1" y="600.8" width="2.8" height="2.8" fill="#f02222"/>
<rect x="152.8" y="600.8" width="2.8" height="2.8" fill="#f02222"/>
<rect x="157.4" y="600.6" width="2.8" height="2.8" fill="#f02222"/>
<rect x="141.6" y="603.1" width="2.8" height="2.8" fill="#f02222"/>
<rect x="159.6" y="604.1" width="2.8" height="2.8" fill="#f02222"/>
<rect x="146.1" y="605.6" width="2.8" height="2.8" fill="#f02222"/>
<rect x="150.6" y="607.6" width="2.8" height="2.8" fill="#f02222"/>
<rect x="155.1" y="607.1" width="2.8" height="2.8" fill="#f02222"/>
<rect x="137.1" y="611.4" width="2.8" height="2.8" fill="#f02222"/>
<rect x="141.6" y="612.1" width="2.8" height="2.8" fill="#f02222"/>
<rect x="159.6" y="611.8" width="2.8" height="2.8" fill="#f02222"/>
<rect x="164.1" y="610.6" width="2.8" height="2.8" fill="#f02222"/>
<rect x="155.1" y="612.8" width="2.8" height="2.8" fill="#f02222"/>
<rect x="146.1" y="615.4" width="2.8" height="2.8" fill="#f02222"/>
<rect x="150.6" y="615.6" width="2.8" height="2.8" fill="#f02222"/>
<rect x="141.6" y="619.1" width="2.8" height="2.8" fill="#f02222"/>
<rect x="159.6" y="619.4" width="2.8" height="2.8" fill="#f02222"/>
<rect x="146.1" y="621.4" width="2.8" height="2.8" fill="#f02222"/>
<rect x="150.6" y="623.8" width="2.8" height="2.8" fill="#f02222"/>
<rect x="155.1" y="622.6" width="2.8" height="2.8" fill="#f02222"/>
<rect x="143.9" y="625.6" width="2.8" height="2.8" fill="#f02222"/>
<rect x="148.1" y="629.4" width="2.8" height="2.8" fill="#f02222"/>
<rect x="152.8" y="630.4" width="2.8" height="2.8" fill="#f02222"/>
<rect x="157.4" y="628.6" width="2.8" height="2.8" fill="#f02222"/>
<rect x="150.6" y="638.6" width="2.8" height="2.8" fill="#f02222"/>
<line x1="128.5" y1="597.5" x2="175.5" y2="597.5" stroke="#333" stroke-width="1"/>
<line x1="140.2" y1="594.5" x2="163.8" y2="594.5" stroke="#555" stroke-width="1"/>
<line x1="140.2" y1="600.5" x2="163.8" y2="600.5" stroke="#555" stroke-width="1"/>
<line x1="152.5" y1="594.5" x2="152.5" y2="600" stroke="#555" stroke-width="0.8"/>
<text x="0" y="0" font-size="7.6" text-anchor="end" fill="#333" transform="translate(85.5,657.3) rotate(-45)">OC</text>
<text x="0" y="0" font-size="7.6" text-anchor="end" fill="#333" transform="translate(156.5,657.8) rotate(-45)">OCSCC</text>
<text x="224.8" y="257.8" font-size="19.5" text-anchor="start" fill="#111">D</text>
<line x1="258.5" y1="259.1" x2="258.5" y2="454.34" stroke="#333" stroke-width="1"/>
<line x1="255.8" y1="259.5" x2="258.2" y2="259.5" stroke="#333" stroke-width="1"/>
<text x="254.6" y="263.8" font-size="8.9" text-anchor="end" fill="#1a1a1a">5</text>
<line x1="255.8" y1="291.5" x2="258.2" y2="291.5" stroke="#333" stroke-width="1"/>
<text x="254.6" y="296.34" font-size="8.9" text-anchor="end" fill="#1a1a1a">4</text>
<line x1="255.8" y1="324.5" x2="258.2" y2="324.5" stroke="#333" stroke-width="1"/>
<text x="254.6" y="328.88" font-size="8.9" text-anchor="end" fill="#1a1a1a">3</text>
<line x1="255.8" y1="356.5" x2="258.2" y2="356.5" stroke="#333" stroke-width="1"/>
<text x="254.6" y="361.42" font-size="8.9" text-anchor="end" fill="#1a1a1a">2</text>
<line x1="255.8" y1="389.5" x2="258.2" y2="389.5" stroke="#333" stroke-width="1"/>
<text x="254.6" y="393.96" font-size="8.9" text-anchor="end" fill="#1a1a1a">1</text>
<line x1="255.8" y1="421.5" x2="258.2" y2="421.5" stroke="#333" stroke-width="1"/>
<text x="254.6" y="426.5" font-size="8.9" text-anchor="end" fill="#1a1a1a">0</text>
<line x1="255.8" y1="454.5" x2="258.2" y2="454.5" stroke="#333" stroke-width="1"/>
<text x="254.6" y="459.04" font-size="8.9" text-anchor="end" fill="#1a1a1a">-1</text>
<line x1="258.2" y1="421.8" x2="529" y2="421.8" stroke="#5a5a5a" stroke-width="1.4"/>
<line x1="281.5" y1="421.8" x2="281.5" y2="423.6" stroke="#555" stroke-width="1"/>
<line x1="326.5" y1="421.8" x2="326.5" y2="423.6" stroke="#555" stroke-width="1"/>
<line x1="370.5" y1="421.8" x2="370.5" y2="423.6" stroke="#555" stroke-width="1"/>
<line x1="415.5" y1="421.8" x2="415.5" y2="423.6" stroke="#555" stroke-width="1"/>
<line x1="461.5" y1="421.8" x2="461.5" y2="423.6" stroke="#555" stroke-width="1"/>
<line x1="506.5" y1="421.8" x2="506.5" y2="423.6" stroke="#555" stroke-width="1"/>
<text x="0" y="0" font-size="7.2" text-anchor="middle" fill="#333" transform="translate(241,345.7) rotate(-90)">log<tspan font-size="5" dy="1.8">2</tspan><tspan dy="-1.8"> median-centered intensity</tspan></text>
<line x1="269.5" y1="442.5" x2="341.7" y2="442.5" stroke="#555" stroke-width="1.2"/>
<text x="305.6" y="452.1" font-size="7.2" text-anchor="middle" fill="#222">Angelesio</text>
<text x="305.6" y="460.6" font-size="7.2" text-anchor="middle" fill="#222">Ovarian</text>
<line x1="358.6" y1="442.5" x2="431" y2="442.5" stroke="#555" stroke-width="1.2"/>
<text x="394.8" y="452.1" font-size="7.2" text-anchor="middle" fill="#222">Tothill</text>
<text x="394.8" y="460.6" font-size="7.2" text-anchor="middle" fill="#222">Ovarian</text>
<line x1="450" y1="442.5" x2="522.7" y2="442.5" stroke="#555" stroke-width="1.2"/>
<text x="486.35" y="452.1" font-size="7.2" text-anchor="middle" fill="#222">Chandran</text>
<text x="486.35" y="460.6" font-size="7.2" text-anchor="middle" fill="#222">Prostate</text>
<path d="M281.5 287.6V269.5H326.5V304" fill="none" stroke="#333" stroke-width="1"/>
<text x="326" y="271.2" font-size="10" text-anchor="middle" fill="#222" font-weight="bold">***</text>
<path d="M370.5 279.4V260.5H415.5V267.8" fill="none" stroke="#333" stroke-width="1"/>
<text x="415" y="262.2" font-size="10" text-anchor="middle" fill="#222" font-weight="bold">***</text>
<path d="M461.5 418.2V364.5H506.5V380" fill="none" stroke="#333" stroke-width="1"/>
<text x="506" y="366.2" font-size="10" text-anchor="middle" fill="#222" font-weight="bold">***</text>
<rect x="435.2" y="309" width="9.4" height="5.6" fill="#1f6fc4" stroke="#333" stroke-width="0.7"/>
<rect x="435.2" y="318.5" width="9.4" height="5.6" fill="#e8242e" stroke="#333" stroke-width="0.7"/>
<text x="446.6" y="314.6" font-size="7.2" text-anchor="start" fill="#222">Primary Site</text>
<text x="446.6" y="324.1" font-size="7.2" text-anchor="start" fill="#222">Metastasis</text>
<circle cx="280.8" cy="294.7" r="0.95" fill="#2b4fae"/>
<circle cx="280.8" cy="313.5" r="0.95" fill="#2b4fae"/>
<circle cx="277.2" cy="320" r="0.95" fill="#2b4fae"/>
<circle cx="280.8" cy="323.5" r="0.95" fill="#2b4fae"/>
<circle cx="284.3" cy="323" r="0.95" fill="#2b4fae"/>
<circle cx="279" cy="326.9" r="0.95" fill="#2b4fae"/>
<circle cx="282.5" cy="327.1" r="0.95" fill="#2b4fae"/>
<circle cx="273.8" cy="328.7" r="0.95" fill="#2b4fae"/>
<circle cx="275.6" cy="332.3" r="0.95" fill="#2b4fae"/>
<circle cx="277.2" cy="330.7" r="0.95" fill="#2b4fae"/>
<circle cx="280.8" cy="331.2" r="0.95" fill="#2b4fae"/>
<circle cx="284.3" cy="331" r="0.95" fill="#2b4fae"/>
<circle cx="286.1" cy="332.8" r="0.95" fill="#2b4fae"/>
<circle cx="287.9" cy="330.4" r="0.95" fill="#2b4fae"/>
<circle cx="279" cy="334.1" r="0.95" fill="#2b4fae"/>
<circle cx="282.5" cy="334.8" r="0.95" fill="#2b4fae"/>
<circle cx="275.6" cy="337.9" r="0.95" fill="#2b4fae"/>
<circle cx="279" cy="339.4" r="0.95" fill="#2b4fae"/>
<circle cx="282.5" cy="338.6" r="0.95" fill="#2b4fae"/>
<circle cx="286.1" cy="337.6" r="0.95" fill="#2b4fae"/>
<circle cx="268.6" cy="341" r="0.95" fill="#2b4fae"/>
<circle cx="272" cy="341.7" r="0.95" fill="#2b4fae"/>
<circle cx="275.5" cy="342.6" r="0.95" fill="#2b4fae"/>
<circle cx="278.9" cy="343.1" r="0.95" fill="#2b4fae"/>
<circle cx="282.4" cy="343.8" r="0.95" fill="#2b4fae"/>
<circle cx="285.8" cy="342.6" r="0.95" fill="#2b4fae"/>
<circle cx="289.5" cy="342.6" r="0.95" fill="#2b4fae"/>
<circle cx="293.1" cy="341.7" r="0.95" fill="#2b4fae"/>
<circle cx="273.7" cy="345.5" r="0.95" fill="#2b4fae"/>
<circle cx="277.2" cy="346.8" r="0.95" fill="#2b4fae"/>
<circle cx="280.7" cy="347.7" r="0.95" fill="#2b4fae"/>
<circle cx="284.1" cy="347" r="0.95" fill="#2b4fae"/>
<circle cx="287.7" cy="346.1" r="0.95" fill="#2b4fae"/>
<circle cx="275.5" cy="348.6" r="0.95" fill="#2b4fae"/>
<circle cx="285.8" cy="350.4" r="0.95" fill="#2b4fae"/>
<circle cx="278.9" cy="351.4" r="0.95" fill="#2b4fae"/>
<circle cx="282.4" cy="351.6" r="0.95" fill="#2b4fae"/>
<circle cx="271.5" cy="350.2" r="0.95" fill="#2b4fae"/>
<circle cx="289.8" cy="349.5" r="0.95" fill="#2b4fae"/>
<circle cx="268.6" cy="353.5" r="0.95" fill="#2b4fae"/>
<circle cx="272" cy="354.2" r="0.95" fill="#2b4fae"/>
<circle cx="275.5" cy="354.5" r="0.95" fill="#2b4fae"/>
<circle cx="278.9" cy="354.9" r="0.95" fill="#2b4fae"/>
<circle cx="282.4" cy="354.5" r="0.95" fill="#2b4fae"/>
<circle cx="285.8" cy="354.4" r="0.95" fill="#2b4fae"/>
<circle cx="289.5" cy="353.8" r="0.95" fill="#2b4fae"/>
<circle cx="293.1" cy="353.1" r="0.95" fill="#2b4fae"/>
<circle cx="273.7" cy="356" r="0.95" fill="#2b4fae"/>
<circle cx="287.7" cy="356" r="0.95" fill="#2b4fae"/>
<circle cx="277.2" cy="358.1" r="0.95" fill="#2b4fae"/>
<circle cx="280.7" cy="358.5" r="0.95" fill="#2b4fae"/>
<circle cx="284.1" cy="358" r="0.95" fill="#2b4fae"/>
<circle cx="272" cy="360.6" r="0.95" fill="#2b4fae"/>
<circle cx="275.5" cy="361.4" r="0.95" fill="#2b4fae"/>
<circle cx="278.9" cy="362.8" r="0.95" fill="#2b4fae"/>
<circle cx="282.4" cy="361.8" r="0.95" fill="#2b4fae"/>
<circle cx="285.8" cy="361.4" r="0.95" fill="#2b4fae"/>
<circle cx="289.5" cy="360.6" r="0.95" fill="#2b4fae"/>
<circle cx="275.6" cy="366.6" r="0.95" fill="#2b4fae"/>
<circle cx="286.1" cy="366.8" r="0.95" fill="#2b4fae"/>
<circle cx="279" cy="369.2" r="0.95" fill="#2b4fae"/>
<circle cx="282.5" cy="369.7" r="0.95" fill="#2b4fae"/>
<circle cx="277.2" cy="372" r="0.95" fill="#2b4fae"/>
<circle cx="279" cy="373.3" r="0.95" fill="#2b4fae"/>
<circle cx="280.8" cy="373" r="0.95" fill="#2b4fae"/>
<circle cx="284.3" cy="372.6" r="0.95" fill="#2b4fae"/>
<circle cx="282.5" cy="376.9" r="0.95" fill="#2b4fae"/>
<circle cx="282.5" cy="379.4" r="0.95" fill="#2b4fae"/>
<circle cx="279" cy="381.2" r="0.95" fill="#2b4fae"/>
<circle cx="280.8" cy="386.1" r="0.95" fill="#2b4fae"/>
<circle cx="280.8" cy="390" r="0.95" fill="#2b4fae"/>
<circle cx="279" cy="393.8" r="0.95" fill="#2b4fae"/>
<circle cx="282.5" cy="394.8" r="0.95" fill="#2b4fae"/>
<circle cx="280.8" cy="404.9" r="0.95" fill="#2b4fae"/>
<line x1="265.8" y1="351.5" x2="295.9" y2="351.5" stroke="#444" stroke-width="1.1"/>
<line x1="273" y1="349.5" x2="287.9" y2="349.5" stroke="#666" stroke-width="0.9"/>
<line x1="273" y1="353.5" x2="287.9" y2="353.5" stroke="#666" stroke-width="0.9"/>
<circle cx="326" cy="307.9" r="1.0" fill="#f0262a"/>
<circle cx="324" cy="315.1" r="1.0" fill="#f0262a"/>
<circle cx="327.7" cy="313.8" r="1.0" fill="#f0262a"/>
<circle cx="322.6" cy="320.6" r="1.0" fill="#f0262a"/>
<circle cx="326.2" cy="320.9" r="1.0" fill="#f0262a"/>
<circle cx="328" cy="320.3" r="1.0" fill="#f0262a"/>
<circle cx="329.6" cy="320.2" r="1.0" fill="#f0262a"/>
<circle cx="324.3" cy="324" r="1.0" fill="#f0262a"/>
<circle cx="329.6" cy="325" r="1.0" fill="#f0262a"/>
<circle cx="322.6" cy="327" r="1.0" fill="#f0262a"/>
<circle cx="326" cy="328.4" r="1.0" fill="#f0262a"/>
<circle cx="326" cy="332.8" r="1.0" fill="#f0262a"/>
<circle cx="326" cy="341.9" r="1.0" fill="#f0262a"/>
<circle cx="326" cy="346" r="1.0" fill="#f0262a"/>
<circle cx="326" cy="365" r="1.0" fill="#f0262a"/>
<circle cx="326" cy="387" r="1.0" fill="#f0262a"/>
<line x1="311.2" y1="330.5" x2="340.6" y2="330.5" stroke="#777" stroke-width="1.2"/>
<line x1="318.5" y1="325.5" x2="333.6" y2="325.5" stroke="#777" stroke-width="1"/>
<line x1="318.5" y1="336.5" x2="333.6" y2="336.5" stroke="#777" stroke-width="1"/>
<line x1="326.5" y1="325.8" x2="326.5" y2="336.3" stroke="#777" stroke-width="0.8"/>
<circle cx="370.8" cy="282.39" r="0.8" fill="#2b4fae"/>
<circle cx="370.8" cy="284.69" r="0.8" fill="#2b4fae"/>
<circle cx="372.52" cy="286.21" r="0.8" fill="#2b4fae"/>
<circle cx="370.8" cy="288.62" r="0.8" fill="#2b4fae"/>
<circle cx="374.24" cy="289.59" r="0.8" fill="#2b4fae"/>
<circle cx="370.8" cy="290.29" r="0.8" fill="#2b4fae"/>
<circle cx="374.24" cy="291.3" r="0.8" fill="#2b4fae"/>
<circle cx="370.8" cy="292.73" r="0.8" fill="#2b4fae"/>
<circle cx="374.24" cy="293.54" r="0.8" fill="#2b4fae"/>
<circle cx="370.8" cy="294.91" r="0.8" fill="#2b4fae"/>
<circle cx="374.24" cy="295.35" r="0.8" fill="#2b4fae"/>
<circle cx="367.36" cy="295.71" r="0.8" fill="#2b4fae"/>
<circle cx="377.68" cy="296.16" r="0.8" fill="#2b4fae"/>
<circle cx="370.8" cy="297.31" r="0.8" fill="#2b4fae"/>
<circle cx="374.24" cy="297.42" r="0.8" fill="#2b4fae"/>
<circle cx="367.36" cy="297.81" r="0.8" fill="#2b4fae"/>
<circle cx="372.52" cy="298.87" r="0.8" fill="#2b4fae"/>
<circle cx="369.08" cy="299.71" r="0.8" fill="#2b4fae"/>
<circle cx="375.96" cy="299.94" r="0.8" fill="#2b4fae"/>
<circle cx="372.52" cy="300.77" r="0.8" fill="#2b4fae"/>
<circle cx="365.64" cy="300.98" r="0.8" fill="#2b4fae"/>
<circle cx="369.08" cy="301.72" r="0.8" fill="#2b4fae"/>
<circle cx="375.96" cy="301.93" r="0.8" fill="#2b4fae"/>
<circle cx="379.4" cy="301.95" r="0.8" fill="#2b4fae"/>
<circle cx="372.52" cy="303.05" r="0.8" fill="#2b4fae"/>
<circle cx="365.64" cy="303.05" r="0.8" fill="#2b4fae"/>
<circle cx="369.08" cy="303.58" r="0.8" fill="#2b4fae"/>
<circle cx="375.96" cy="303.8" r="0.8" fill="#2b4fae"/>
<circle cx="379.4" cy="303.86" r="0.8" fill="#2b4fae"/>
<circle cx="363.92" cy="304.68" r="0.8" fill="#2b4fae"/>
<circle cx="372.52" cy="304.94" r="0.8" fill="#2b4fae"/>
<circle cx="367.36" cy="305.04" r="0.8" fill="#2b4fae"/>
<circle cx="360.48" cy="305.23" r="0.8" fill="#2b4fae"/>
<circle cx="375.96" cy="305.89" r="0.8" fill="#2b4fae"/>
<circle cx="379.4" cy="306.09" r="0.8" fill="#2b4fae"/>
<circle cx="370.8" cy="306.97" r="0.8" fill="#2b4fae"/>
<circle cx="367.36" cy="307.08" r="0.8" fill="#2b4fae"/>
<circle cx="374.24" cy="307.38" r="0.8" fill="#2b4fae"/>
<circle cx="377.68" cy="307.52" r="0.8" fill="#2b4fae"/>
<circle cx="363.92" cy="308.05" r="0.8" fill="#2b4fae"/>
<circle cx="381.12" cy="308.47" r="0.8" fill="#2b4fae"/>
<circle cx="369.08" cy="308.53" r="0.8" fill="#2b4fae"/>
<circle cx="360.48" cy="308.53" r="0.8" fill="#2b4fae"/>
<circle cx="372.52" cy="308.89" r="0.8" fill="#2b4fae"/>
<circle cx="375.96" cy="309.13" r="0.8" fill="#2b4fae"/>
<circle cx="384.56" cy="309.37" r="0.8" fill="#2b4fae"/>
<circle cx="365.64" cy="309.78" r="0.8" fill="#2b4fae"/>
<circle cx="379.4" cy="310.02" r="0.8" fill="#2b4fae"/>
<circle cx="370.8" cy="310.34" r="0.8" fill="#2b4fae"/>
<circle cx="374.24" cy="310.86" r="0.8" fill="#2b4fae"/>
<circle cx="362.2" cy="310.98" r="0.8" fill="#2b4fae"/>
<circle cx="367.36" cy="311.25" r="0.8" fill="#2b4fae"/>
<circle cx="382.84" cy="311.39" r="0.8" fill="#2b4fae"/>
<circle cx="377.68" cy="311.48" r="0.8" fill="#2b4fae"/>
<circle cx="358.76" cy="311.87" r="0.8" fill="#2b4fae"/>
<circle cx="370.8" cy="312.41" r="0.8" fill="#2b4fae"/>
<circle cx="363.92" cy="312.45" r="0.8" fill="#2b4fae"/>
<circle cx="374.24" cy="312.81" r="0.8" fill="#2b4fae"/>
<circle cx="381.12" cy="312.87" r="0.8" fill="#2b4fae"/>
<circle cx="367.36" cy="313.5" r="0.8" fill="#2b4fae"/>
<circle cx="377.68" cy="313.83" r="0.8" fill="#2b4fae"/>
<circle cx="362.2" cy="313.94" r="0.8" fill="#2b4fae"/>
<circle cx="370.8" cy="314.15" r="0.8" fill="#2b4fae"/>
<circle cx="382.84" cy="314.43" r="0.8" fill="#2b4fae"/>
<circle cx="374.24" cy="314.75" r="0.8" fill="#2b4fae"/>
<circle cx="358.76" cy="314.85" r="0.8" fill="#2b4fae"/>
<circle cx="370.8" cy="315.85" r="0.8" fill="#2b4fae"/>
<circle cx="367.36" cy="315.89" r="0.8" fill="#2b4fae"/>
<circle cx="377.68" cy="316.04" r="0.8" fill="#2b4fae"/>
<circle cx="363.92" cy="316.15" r="0.8" fill="#2b4fae"/>
<circle cx="381.12" cy="316.15" r="0.8" fill="#2b4fae"/>
<circle cx="374.24" cy="316.84" r="0.8" fill="#2b4fae"/>
<circle cx="360.48" cy="316.89" r="0.8" fill="#2b4fae"/>
<circle cx="384.56" cy="317.21" r="0.8" fill="#2b4fae"/>
<circle cx="370.8" cy="317.83" r="0.8" fill="#2b4fae"/>
<circle cx="367.36" cy="318.17" r="0.8" fill="#2b4fae"/>
<circle cx="377.68" cy="318.23" r="0.8" fill="#2b4fae"/>
<circle cx="374.24" cy="318.67" r="0.8" fill="#2b4fae"/>
<circle cx="363.92" cy="319.07" r="0.8" fill="#2b4fae"/>
<circle cx="381.12" cy="319.34" r="0.8" fill="#2b4fae"/>
<circle cx="370.8" cy="319.55" r="0.8" fill="#2b4fae"/>
<circle cx="360.48" cy="319.61" r="0.8" fill="#2b4fae"/>
<circle cx="374.24" cy="320.39" r="0.8" fill="#2b4fae"/>
<circle cx="367.36" cy="320.4" r="0.8" fill="#2b4fae"/>
<circle cx="377.68" cy="321.17" r="0.8" fill="#2b4fae"/>
<circle cx="370.8" cy="321.24" r="0.8" fill="#2b4fae"/>
<circle cx="363.92" cy="321.73" r="0.8" fill="#2b4fae"/>
<circle cx="381.12" cy="321.82" r="0.8" fill="#2b4fae"/>
<circle cx="360.48" cy="321.92" r="0.8" fill="#2b4fae"/>
<circle cx="374.24" cy="322.15" r="0.8" fill="#2b4fae"/>
<circle cx="369.08" cy="322.75" r="0.8" fill="#2b4fae"/>
<circle cx="377.68" cy="322.93" r="0.8" fill="#2b4fae"/>
<circle cx="384.56" cy="322.98" r="0.8" fill="#2b4fae"/>
<circle cx="372.52" cy="323.62" r="0.8" fill="#2b4fae"/>
<circle cx="365.64" cy="323.94" r="0.8" fill="#2b4fae"/>
<circle cx="362.2" cy="324.17" r="0.8" fill="#2b4fae"/>
<circle cx="369.08" cy="324.43" r="0.8" fill="#2b4fae"/>
<circle cx="375.96" cy="324.66" r="0.8" fill="#2b4fae"/>
<circle cx="379.4" cy="324.87" r="0.8" fill="#2b4fae"/>
<circle cx="382.84" cy="325.12" r="0.8" fill="#2b4fae"/>
<circle cx="372.52" cy="325.3" r="0.8" fill="#2b4fae"/>
<circle cx="365.64" cy="325.6" r="0.8" fill="#2b4fae"/>
<circle cx="369.08" cy="326.09" r="0.8" fill="#2b4fae"/>
<circle cx="375.96" cy="326.43" r="0.8" fill="#2b4fae"/>
<circle cx="362.2" cy="326.49" r="0.8" fill="#2b4fae"/>
<circle cx="372.52" cy="327.44" r="0.8" fill="#2b4fae"/>
<circle cx="369.08" cy="327.95" r="0.8" fill="#2b4fae"/>
<circle cx="365.64" cy="327.99" r="0.8" fill="#2b4fae"/>
<circle cx="377.68" cy="328.02" r="0.8" fill="#2b4fae"/>
<circle cx="381.12" cy="328.03" r="0.8" fill="#2b4fae"/>
<circle cx="362.2" cy="328.18" r="0.8" fill="#2b4fae"/>
<circle cx="358.76" cy="328.31" r="0.8" fill="#2b4fae"/>
<circle cx="370.8" cy="329.39" r="0.8" fill="#2b4fae"/>
<circle cx="374.24" cy="329.95" r="0.8" fill="#2b4fae"/>
<circle cx="367.36" cy="329.97" r="0.8" fill="#2b4fae"/>
<circle cx="377.68" cy="330.38" r="0.8" fill="#2b4fae"/>
<circle cx="363.92" cy="330.41" r="0.8" fill="#2b4fae"/>
<circle cx="381.12" cy="330.42" r="0.8" fill="#2b4fae"/>
<circle cx="360.48" cy="330.98" r="0.8" fill="#2b4fae"/>
<circle cx="384.56" cy="331.01" r="0.8" fill="#2b4fae"/>
<circle cx="370.8" cy="331.38" r="0.8" fill="#2b4fae"/>
<circle cx="357.04" cy="331.42" r="0.8" fill="#2b4fae"/>
<circle cx="388" cy="331.55" r="0.8" fill="#2b4fae"/>
<circle cx="374.24" cy="332.54" r="0.8" fill="#2b4fae"/>
<circle cx="367.36" cy="332.64" r="0.8" fill="#2b4fae"/>
<circle cx="370.8" cy="333.03" r="0.8" fill="#2b4fae"/>
<circle cx="377.68" cy="333.77" r="0.8" fill="#2b4fae"/>
<circle cx="363.92" cy="333.82" r="0.8" fill="#2b4fae"/>
<circle cx="381.12" cy="333.88" r="0.8" fill="#2b4fae"/>
<circle cx="374.24" cy="334.27" r="0.8" fill="#2b4fae"/>
<circle cx="367.36" cy="334.4" r="0.8" fill="#2b4fae"/>
<circle cx="360.48" cy="334.48" r="0.8" fill="#2b4fae"/>
<circle cx="370.8" cy="334.84" r="0.8" fill="#2b4fae"/>
<circle cx="384.56" cy="335.3" r="0.8" fill="#2b4fae"/>
<circle cx="374.24" cy="335.94" r="0.8" fill="#2b4fae"/>
<circle cx="367.36" cy="336.07" r="0.8" fill="#2b4fae"/>
<circle cx="377.68" cy="336.08" r="0.8" fill="#2b4fae"/>
<circle cx="370.8" cy="336.95" r="0.8" fill="#2b4fae"/>
<circle cx="363.92" cy="337.33" r="0.8" fill="#2b4fae"/>
<circle cx="381.12" cy="337.4" r="0.8" fill="#2b4fae"/>
<circle cx="375.96" cy="337.52" r="0.8" fill="#2b4fae"/>
<circle cx="360.48" cy="337.57" r="0.8" fill="#2b4fae"/>
<circle cx="367.36" cy="337.99" r="0.8" fill="#2b4fae"/>
<circle cx="370.8" cy="338.68" r="0.8" fill="#2b4fae"/>
<circle cx="384.56" cy="338.77" r="0.8" fill="#2b4fae"/>
<circle cx="379.4" cy="338.83" r="0.8" fill="#2b4fae"/>
<circle cx="374.24" cy="338.95" r="0.8" fill="#2b4fae"/>
<circle cx="365.64" cy="339.55" r="0.8" fill="#2b4fae"/>
<circle cx="369.08" cy="340.18" r="0.8" fill="#2b4fae"/>
<circle cx="362.2" cy="340.23" r="0.8" fill="#2b4fae"/>
<circle cx="377.68" cy="340.32" r="0.8" fill="#2b4fae"/>
<circle cx="372.52" cy="341.26" r="0.8" fill="#2b4fae"/>
<circle cx="367.36" cy="341.63" r="0.8" fill="#2b4fae"/>
<circle cx="375.96" cy="341.78" r="0.8" fill="#2b4fae"/>
<circle cx="363.92" cy="341.92" r="0.8" fill="#2b4fae"/>
<circle cx="379.4" cy="342.02" r="0.8" fill="#2b4fae"/>
<circle cx="360.48" cy="342.19" r="0.8" fill="#2b4fae"/>
<circle cx="382.84" cy="342.21" r="0.8" fill="#2b4fae"/>
<circle cx="357.04" cy="342.59" r="0.8" fill="#2b4fae"/>
<circle cx="370.8" cy="343.06" r="0.8" fill="#2b4fae"/>
<circle cx="374.24" cy="343.31" r="0.8" fill="#2b4fae"/>
<circle cx="367.36" cy="343.76" r="0.8" fill="#2b4fae"/>
<circle cx="377.68" cy="343.94" r="0.8" fill="#2b4fae"/>
<circle cx="363.92" cy="344.47" r="0.8" fill="#2b4fae"/>
<circle cx="381.12" cy="344.59" r="0.8" fill="#2b4fae"/>
<circle cx="370.8" cy="344.84" r="0.8" fill="#2b4fae"/>
<circle cx="374.24" cy="345.18" r="0.8" fill="#2b4fae"/>
<circle cx="360.48" cy="345.22" r="0.8" fill="#2b4fae"/>
<circle cx="367.36" cy="345.75" r="0.8" fill="#2b4fae"/>
<circle cx="377.68" cy="346.33" r="0.8" fill="#2b4fae"/>
<circle cx="363.92" cy="346.39" r="0.8" fill="#2b4fae"/>
<circle cx="370.8" cy="346.73" r="0.8" fill="#2b4fae"/>
<circle cx="374.24" cy="346.9" r="0.8" fill="#2b4fae"/>
<circle cx="381.12" cy="347.03" r="0.8" fill="#2b4fae"/>
<circle cx="360.48" cy="347.19" r="0.8" fill="#2b4fae"/>
<circle cx="367.36" cy="347.58" r="0.8" fill="#2b4fae"/>
<circle cx="384.56" cy="347.92" r="0.8" fill="#2b4fae"/>
<circle cx="370.8" cy="348.59" r="0.8" fill="#2b4fae"/>
<circle cx="374.24" cy="349.21" r="0.8" fill="#2b4fae"/>
<circle cx="367.36" cy="349.61" r="0.8" fill="#2b4fae"/>
<circle cx="377.68" cy="349.7" r="0.8" fill="#2b4fae"/>
<circle cx="363.92" cy="349.98" r="0.8" fill="#2b4fae"/>
<circle cx="381.12" cy="350.07" r="0.8" fill="#2b4fae"/>
<circle cx="360.48" cy="350.21" r="0.8" fill="#2b4fae"/>
<circle cx="370.8" cy="350.54" r="0.8" fill="#2b4fae"/>
<circle cx="374.24" cy="350.98" r="0.8" fill="#2b4fae"/>
<circle cx="367.36" cy="351.3" r="0.8" fill="#2b4fae"/>
<circle cx="384.56" cy="351.33" r="0.8" fill="#2b4fae"/>
<circle cx="370.8" cy="352.25" r="0.8" fill="#2b4fae"/>
<circle cx="377.68" cy="352.32" r="0.8" fill="#2b4fae"/>
<circle cx="374.24" cy="352.84" r="0.8" fill="#2b4fae"/>
<circle cx="365.64" cy="352.93" r="0.8" fill="#2b4fae"/>
<circle cx="362.2" cy="353.46" r="0.8" fill="#2b4fae"/>
<circle cx="381.12" cy="353.48" r="0.8" fill="#2b4fae"/>
<circle cx="358.76" cy="353.6" r="0.8" fill="#2b4fae"/>
<circle cx="370.8" cy="354.49" r="0.8" fill="#2b4fae"/>
<circle cx="374.24" cy="354.69" r="0.8" fill="#2b4fae"/>
<circle cx="367.36" cy="354.78" r="0.8" fill="#2b4fae"/>
<circle cx="377.68" cy="355.53" r="0.8" fill="#2b4fae"/>
<circle cx="363.92" cy="355.92" r="0.8" fill="#2b4fae"/>
<circle cx="370.8" cy="356.27" r="0.8" fill="#2b4fae"/>
<circle cx="374.24" cy="356.93" r="0.8" fill="#2b4fae"/>
<circle cx="367.36" cy="357.22" r="0.8" fill="#2b4fae"/>
<circle cx="377.68" cy="357.58" r="0.8" fill="#2b4fae"/>
<circle cx="363.92" cy="357.72" r="0.8" fill="#2b4fae"/>
<circle cx="381.12" cy="357.84" r="0.8" fill="#2b4fae"/>
<circle cx="370.8" cy="358.17" r="0.8" fill="#2b4fae"/>
<circle cx="360.48" cy="358.22" r="0.8" fill="#2b4fae"/>
<circle cx="374.24" cy="358.95" r="0.8" fill="#2b4fae"/>
<circle cx="367.36" cy="359.09" r="0.8" fill="#2b4fae"/>
<circle cx="370.8" cy="360.35" r="0.8" fill="#2b4fae"/>
<circle cx="375.96" cy="360.5" r="0.8" fill="#2b4fae"/>
<circle cx="367.36" cy="360.93" r="0.8" fill="#2b4fae"/>
<circle cx="363.92" cy="360.99" r="0.8" fill="#2b4fae"/>
<circle cx="370.8" cy="362.04" r="0.8" fill="#2b4fae"/>
<circle cx="374.24" cy="362.31" r="0.8" fill="#2b4fae"/>
<circle cx="377.68" cy="362.39" r="0.8" fill="#2b4fae"/>
<circle cx="370.8" cy="363.92" r="0.8" fill="#2b4fae"/>
<circle cx="374.24" cy="364.17" r="0.8" fill="#2b4fae"/>
<circle cx="367.36" cy="364.46" r="0.8" fill="#2b4fae"/>
<circle cx="370.8" cy="365.86" r="0.8" fill="#2b4fae"/>
<circle cx="374.24" cy="366.23" r="0.8" fill="#2b4fae"/>
<circle cx="367.36" cy="366.27" r="0.8" fill="#2b4fae"/>
<circle cx="377.68" cy="367.27" r="0.8" fill="#2b4fae"/>
<circle cx="363.92" cy="367.49" r="0.8" fill="#2b4fae"/>
<circle cx="370.8" cy="368.69" r="0.8" fill="#2b4fae"/>
<circle cx="374.24" cy="368.77" r="0.8" fill="#2b4fae"/>
<circle cx="367.36" cy="369.2" r="0.8" fill="#2b4fae"/>
<circle cx="370.8" cy="370.81" r="0.8" fill="#2b4fae"/>
<circle cx="374.24" cy="371.67" r="0.8" fill="#2b4fae"/>
<circle cx="370.8" cy="372.75" r="0.8" fill="#2b4fae"/>
<circle cx="367.36" cy="372.9" r="0.8" fill="#2b4fae"/>
<circle cx="374.24" cy="373.86" r="0.8" fill="#2b4fae"/>
<circle cx="370.8" cy="375.21" r="0.8" fill="#2b4fae"/>
<circle cx="374.24" cy="375.98" r="0.8" fill="#2b4fae"/>
<circle cx="370.8" cy="377.57" r="0.8" fill="#2b4fae"/>
<circle cx="374.24" cy="377.79" r="0.8" fill="#2b4fae"/>
<circle cx="370.8" cy="379.53" r="0.8" fill="#2b4fae"/>
<circle cx="374.24" cy="380.7" r="0.8" fill="#2b4fae"/>
<circle cx="370.8" cy="383.06" r="0.8" fill="#2b4fae"/>
<circle cx="370.8" cy="385.57" r="0.8" fill="#2b4fae"/>
<circle cx="374.24" cy="386.75" r="0.8" fill="#2b4fae"/>
<circle cx="370.8" cy="389.92" r="0.8" fill="#2b4fae"/>
<circle cx="370.8" cy="394.22" r="0.8" fill="#2b4fae"/>
<circle cx="370.8" cy="400.01" r="0.8" fill="#2b4fae"/>
<circle cx="370.8" cy="404.37" r="0.8" fill="#2b4fae"/>
<circle cx="370.8" cy="406.69" r="0.8" fill="#2b4fae"/>
<circle cx="370.8" cy="413.52" r="0.8" fill="#2b4fae"/>
<circle cx="370.8" cy="415.48" r="0.8" fill="#2b4fae"/>
<circle cx="370.8" cy="420.09" r="0.8" fill="#2b4fae"/>
<line x1="356.7" y1="335.8" x2="385.6" y2="335.8" stroke="#999" stroke-width="1.6"/>
<line x1="362" y1="333.5" x2="379.6" y2="333.5" stroke="#777" stroke-width="0.9"/>
<line x1="362" y1="338.5" x2="379.6" y2="338.5" stroke="#777" stroke-width="0.9"/>
<circle cx="415.6" cy="271.14" r="0.8" fill="#f0262a"/>
<circle cx="415.6" cy="285.46" r="0.8" fill="#f0262a"/>
<circle cx="415.6" cy="291.64" r="0.8" fill="#f0262a"/>
<circle cx="419.04" cy="292.62" r="0.8" fill="#f0262a"/>
<circle cx="415.6" cy="294.89" r="0.8" fill="#f0262a"/>
<circle cx="415.6" cy="298.58" r="0.8" fill="#f0262a"/>
<circle cx="419.04" cy="298.8" r="0.8" fill="#f0262a"/>
<circle cx="412.16" cy="299.02" r="0.8" fill="#f0262a"/>
<circle cx="415.6" cy="301.16" r="0.8" fill="#f0262a"/>
<circle cx="419.04" cy="301.32" r="0.8" fill="#f0262a"/>
<circle cx="412.16" cy="301.48" r="0.8" fill="#f0262a"/>
<circle cx="422.48" cy="301.65" r="0.8" fill="#f0262a"/>
<circle cx="415.6" cy="307.34" r="0.8" fill="#f0262a"/>
<circle cx="419.04" cy="307.5" r="0.8" fill="#f0262a"/>
<circle cx="412.16" cy="307.67" r="0.8" fill="#f0262a"/>
<circle cx="422.48" cy="307.83" r="0.8" fill="#f0262a"/>
<circle cx="415.6" cy="312.26" r="0.8" fill="#f0262a"/>
<circle cx="419.04" cy="312.5" r="0.8" fill="#f0262a"/>
<circle cx="412.16" cy="312.74" r="0.8" fill="#f0262a"/>
<circle cx="422.48" cy="312.98" r="0.8" fill="#f0262a"/>
<circle cx="408.72" cy="313.21" r="0.8" fill="#f0262a"/>
<circle cx="425.92" cy="313.45" r="0.8" fill="#f0262a"/>
<circle cx="405.28" cy="313.69" r="0.8" fill="#f0262a"/>
<circle cx="429.36" cy="313.93" r="0.8" fill="#f0262a"/>
<circle cx="401.84" cy="314.17" r="0.8" fill="#f0262a"/>
<circle cx="417.32" cy="314.41" r="0.8" fill="#f0262a"/>
<circle cx="413.88" cy="314.65" r="0.8" fill="#f0262a"/>
<circle cx="420.76" cy="314.88" r="0.8" fill="#f0262a"/>
<circle cx="410.44" cy="315.12" r="0.8" fill="#f0262a"/>
<circle cx="424.2" cy="315.36" r="0.8" fill="#f0262a"/>
<circle cx="407" cy="315.6" r="0.8" fill="#f0262a"/>
<circle cx="415.6" cy="317.76" r="0.8" fill="#f0262a"/>
<circle cx="419.04" cy="317.95" r="0.8" fill="#f0262a"/>
<circle cx="412.16" cy="318.14" r="0.8" fill="#f0262a"/>
<circle cx="422.48" cy="318.32" r="0.8" fill="#f0262a"/>
<circle cx="408.72" cy="318.51" r="0.8" fill="#f0262a"/>
<circle cx="425.92" cy="318.69" r="0.8" fill="#f0262a"/>
<circle cx="405.28" cy="318.88" r="0.8" fill="#f0262a"/>
<circle cx="415.6" cy="320.94" r="0.8" fill="#f0262a"/>
<circle cx="419.04" cy="320.96" r="0.8" fill="#f0262a"/>
<circle cx="412.16" cy="320.98" r="0.8" fill="#f0262a"/>
<circle cx="422.48" cy="321" r="0.8" fill="#f0262a"/>
<circle cx="408.72" cy="321.02" r="0.8" fill="#f0262a"/>
<circle cx="425.92" cy="321.04" r="0.8" fill="#f0262a"/>
<circle cx="403.56" cy="321.06" r="0.8" fill="#f0262a"/>
<circle cx="429.36" cy="321.08" r="0.8" fill="#f0262a"/>
<circle cx="417.32" cy="323.05" r="0.8" fill="#f0262a"/>
<circle cx="413.88" cy="323.07" r="0.8" fill="#f0262a"/>
<circle cx="420.76" cy="323.09" r="0.8" fill="#f0262a"/>
<circle cx="410.44" cy="323.11" r="0.8" fill="#f0262a"/>
<circle cx="424.2" cy="323.13" r="0.8" fill="#f0262a"/>
<circle cx="407" cy="323.15" r="0.8" fill="#f0262a"/>
<circle cx="427.64" cy="323.17" r="0.8" fill="#f0262a"/>
<circle cx="401.84" cy="323.19" r="0.8" fill="#f0262a"/>
<circle cx="415.6" cy="325.61" r="0.8" fill="#f0262a"/>
<circle cx="419.04" cy="325.87" r="0.8" fill="#f0262a"/>
<circle cx="412.16" cy="326.13" r="0.8" fill="#f0262a"/>
<circle cx="422.48" cy="326.39" r="0.8" fill="#f0262a"/>
<circle cx="408.72" cy="326.65" r="0.8" fill="#f0262a"/>
<circle cx="425.92" cy="327.64" r="0.8" fill="#f0262a"/>
<circle cx="415.6" cy="328.04" r="0.8" fill="#f0262a"/>
<circle cx="419.04" cy="328.45" r="0.8" fill="#f0262a"/>
<circle cx="412.16" cy="328.86" r="0.8" fill="#f0262a"/>
<circle cx="415.6" cy="330.85" r="0.8" fill="#f0262a"/>
<circle cx="419.04" cy="331.18" r="0.8" fill="#f0262a"/>
<circle cx="412.16" cy="331.5" r="0.8" fill="#f0262a"/>
<circle cx="422.48" cy="331.83" r="0.8" fill="#f0262a"/>
<circle cx="415.6" cy="334.27" r="0.8" fill="#f0262a"/>
<circle cx="419.04" cy="334.92" r="0.8" fill="#f0262a"/>
<circle cx="412.16" cy="335.57" r="0.8" fill="#f0262a"/>
<circle cx="422.48" cy="336.22" r="0.8" fill="#f0262a"/>
<circle cx="415.6" cy="341.43" r="0.8" fill="#f0262a"/>
<circle cx="415.6" cy="346.96" r="0.8" fill="#f0262a"/>
<circle cx="415.6" cy="350.54" r="0.8" fill="#f0262a"/>
<circle cx="419.04" cy="350.86" r="0.8" fill="#f0262a"/>
<circle cx="412.16" cy="350.86" r="0.8" fill="#f0262a"/>
<circle cx="422.48" cy="351.19" r="0.8" fill="#f0262a"/>
<circle cx="415.6" cy="359.97" r="0.8" fill="#f0262a"/>
<circle cx="415.6" cy="375.59" r="0.8" fill="#f0262a"/>
<circle cx="415.6" cy="377.87" r="0.8" fill="#f0262a"/>
<circle cx="415.6" cy="385.36" r="0.8" fill="#f0262a"/>
<circle cx="415.6" cy="388.61" r="0.8" fill="#f0262a"/>
<line x1="401.5" y1="321.5" x2="431" y2="321.5" stroke="#777" stroke-width="1.2"/>
<line x1="408.5" y1="319.5" x2="423" y2="319.5" stroke="#666" stroke-width="0.9"/>
<line x1="408.5" y1="324.5" x2="423" y2="324.5" stroke="#666" stroke-width="0.9"/>
<rect x="453.6" y="430.2" width="15.3" height="4.5" fill="#cfcfcf" stroke="#aaa" stroke-width="0.6"/>
<line x1="446.6" y1="432.5" x2="476.2" y2="432.5" stroke="#777" stroke-width="1"/>
<circle cx="459.6" cy="423" r="0.8" fill="#2b4fae"/>
<circle cx="461.4" cy="423" r="0.8" fill="#2b4fae"/>
<circle cx="463.1" cy="426.3" r="0.8" fill="#2b4fae"/>
<circle cx="463.1" cy="428.5" r="0.8" fill="#2b4fae"/>
<circle cx="459.6" cy="430.4" r="0.8" fill="#2b4fae"/>
<circle cx="457.7" cy="433.3" r="0.8" fill="#2b4fae"/>
<circle cx="461.4" cy="432.8" r="0.8" fill="#2b4fae"/>
<circle cx="464.9" cy="433.1" r="0.8" fill="#2b4fae"/>
<circle cx="457.7" cy="436.1" r="0.8" fill="#2b4fae"/>
<circle cx="461.4" cy="435.2" r="0.8" fill="#2b4fae"/>
<circle cx="464.9" cy="436" r="0.8" fill="#2b4fae"/>
<circle cx="461.4" cy="439.3" r="0.8" fill="#2b4fae"/>
<line x1="491.6" y1="405" x2="521" y2="405" stroke="#999" stroke-width="1.3"/>
<line x1="498.9" y1="402.5" x2="514.1" y2="402.5" stroke="#555" stroke-width="0.9"/>
<line x1="498.9" y1="407.5" x2="514.1" y2="407.5" stroke="#555" stroke-width="0.9"/>
<circle cx="506.5" cy="386.9" r="1.2" fill="#c8161c" stroke="#3a0a0a" stroke-width="0.55"/>
<circle cx="504.6" cy="389.2" r="1.2" fill="#c8161c" stroke="#3a0a0a" stroke-width="0.55"/>
<circle cx="508.3" cy="390.5" r="1.2" fill="#c8161c" stroke="#3a0a0a" stroke-width="0.55"/>
<circle cx="502.9" cy="392.4" r="1.2" fill="#c8161c" stroke="#3a0a0a" stroke-width="0.55"/>
<circle cx="506.5" cy="394.2" r="1.2" fill="#c8161c" stroke="#3a0a0a" stroke-width="0.55"/>
<circle cx="510.1" cy="393.8" r="1.2" fill="#c8161c" stroke="#3a0a0a" stroke-width="0.55"/>
<circle cx="504.6" cy="398.8" r="1.2" fill="#c8161c" stroke="#3a0a0a" stroke-width="0.55"/>
<circle cx="508.3" cy="399.4" r="1.2" fill="#c8161c" stroke="#3a0a0a" stroke-width="0.55"/>
<circle cx="508.3" cy="401.1" r="1.2" fill="#c8161c" stroke="#3a0a0a" stroke-width="0.55"/>
<circle cx="504.6" cy="403.1" r="1.2" fill="#c8161c" stroke="#3a0a0a" stroke-width="0.55"/>
<circle cx="502.9" cy="406.5" r="1.2" fill="#c8161c" stroke="#3a0a0a" stroke-width="0.55"/>
<circle cx="510.1" cy="406.2" r="1.2" fill="#c8161c" stroke="#3a0a0a" stroke-width="0.55"/>
<circle cx="506.5" cy="408.5" r="1.2" fill="#c8161c" stroke="#3a0a0a" stroke-width="0.55"/>
<circle cx="502.9" cy="412.6" r="1.2" fill="#c8161c" stroke="#3a0a0a" stroke-width="0.55"/>
<circle cx="502.9" cy="415.6" r="1.2" fill="#c8161c" stroke="#3a0a0a" stroke-width="0.55"/>
<circle cx="506.5" cy="414" r="1.2" fill="#c8161c" stroke="#3a0a0a" stroke-width="0.55"/>
<circle cx="510.1" cy="414" r="1.2" fill="#c8161c" stroke="#3a0a0a" stroke-width="0.55"/>
<circle cx="510.1" cy="415.6" r="1.2" fill="#c8161c" stroke="#3a0a0a" stroke-width="0.55"/>
<circle cx="506.5" cy="417.9" r="1.2" fill="#c8161c" stroke="#3a0a0a" stroke-width="0.55"/>
<circle cx="504.6" cy="421.7" r="1.2" fill="#c8161c" stroke="#3a0a0a" stroke-width="0.55"/>
<circle cx="508.3" cy="421.4" r="1.2" fill="#c8161c" stroke="#3a0a0a" stroke-width="0.55"/>
</svg></body></html>
